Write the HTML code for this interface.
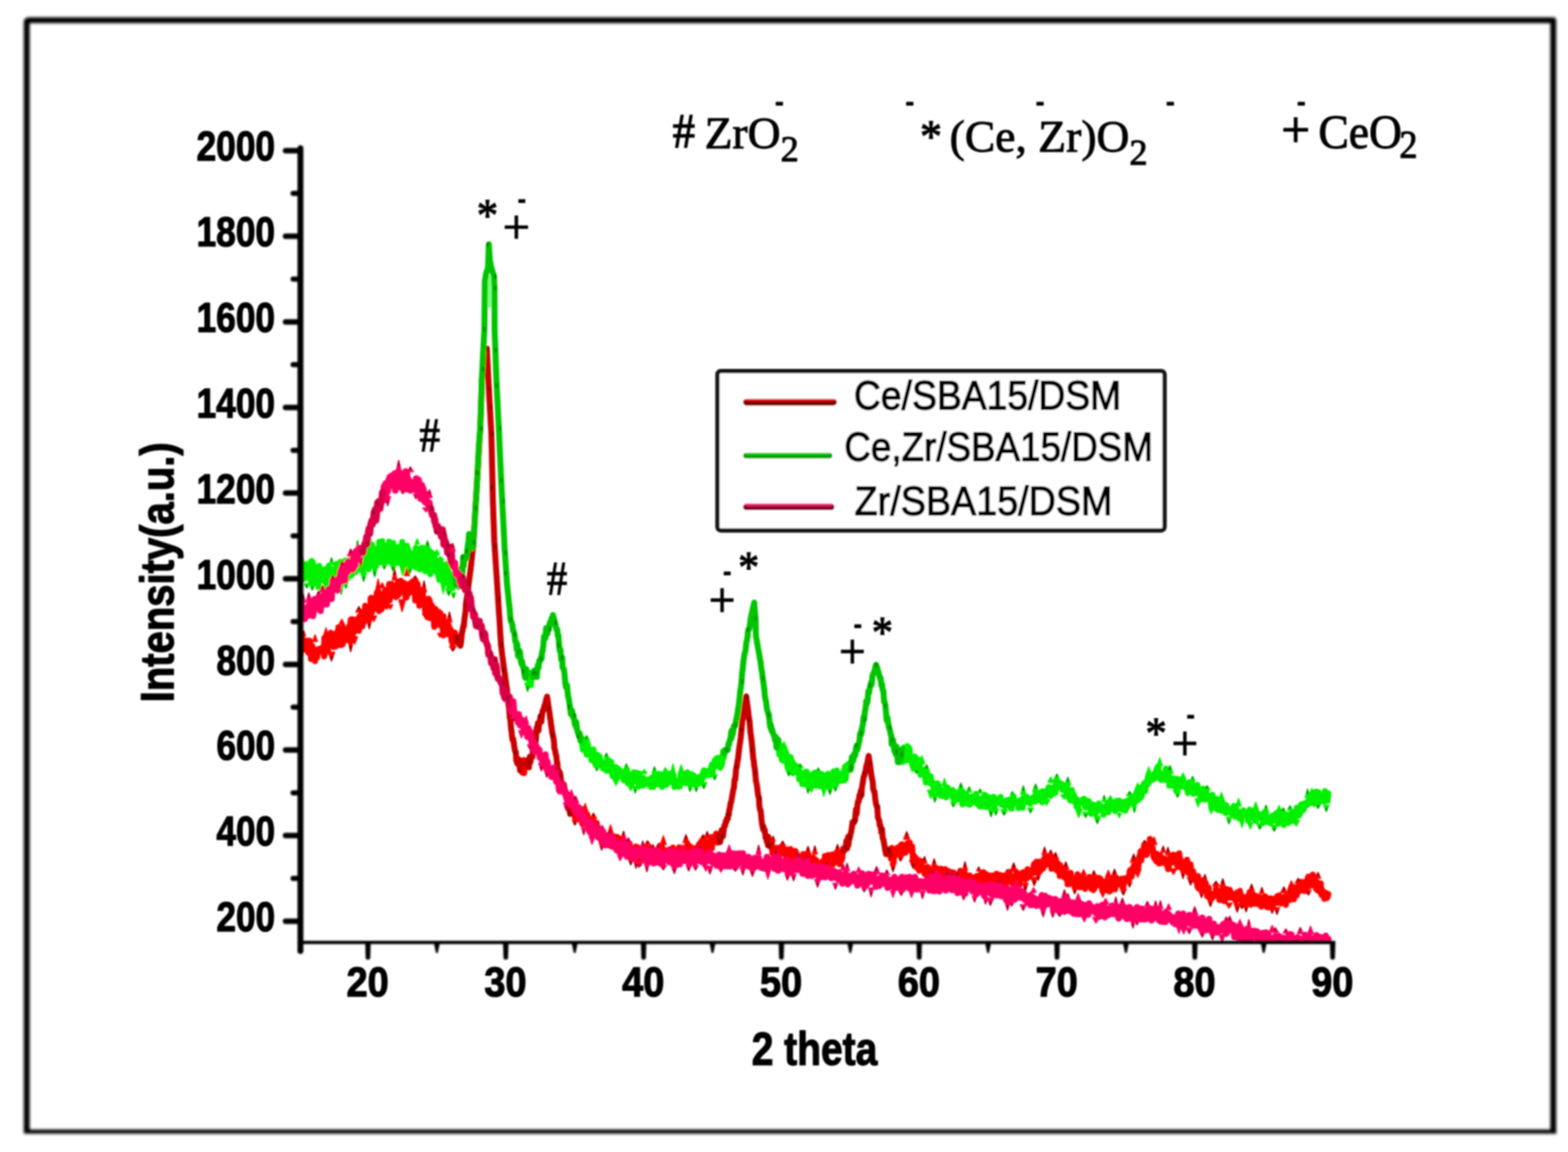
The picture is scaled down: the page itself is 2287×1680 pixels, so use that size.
<!DOCTYPE html>
<html><head><meta charset="utf-8"><title>XRD patterns</title>
<style>html,body{margin:0;padding:0;background:#fff;overflow:hidden}svg{display:block}</style></head>
<body>
<svg width="2287" height="1680" viewBox="0 0 2287 1680">
<rect width="2287" height="1680" fill="#fff"/>
<defs><filter id="bl" x="-2%" y="-2%" width="104%" height="104%"><feGaussianBlur stdDeviation="1.2"/></filter><filter id="bt" x="-5%" y="-5%" width="110%" height="110%"><feGaussianBlur stdDeviation="1.0"/></filter><filter id="bf" x="-2%" y="-2%" width="104%" height="104%"><feGaussianBlur stdDeviation="2.0"/></filter><filter id="ba" x="-3%" y="-3%" width="106%" height="106%"><feGaussianBlur stdDeviation="1.4"/></filter><clipPath id="pc"><rect x="436" y="200" width="1517" height="1175.5"/></clipPath></defs>
<g stroke="#000" fill="none" filter="url(#bf)">
<path d="M39,1652 V32 Q39,29.5 42,29.5 H2265.5 V1652" stroke-width="8.6" stroke-linejoin="round"/>
<line x1="35" y1="1650.2" x2="2270" y2="1650.2" stroke-width="6"/>
</g>
<g clip-path="url(#pc)"><g filter="url(#bl)">
<path d="M437.5,954.4 438.5,938 439.5,936.5 440.5,927.4 441.5,941.9 442.5,939.4 443.5,937.8 444.5,946.3 445.5,947.7 446.5,934.1 447.5,936.3 448.5,940.6 449.5,951.9 450.5,951.2 451.5,934.1 452.5,936.3 453,953.9 453.5,961.3 454.5,947.5 455.5,942 456.5,959.2 457.5,946.6 458.5,956.6 459.5,964.3 460.5,956.9 461.5,952.3 462.5,958.9 463.5,946.9 464,951.4 464.5,947.3 465.5,949.6 466.5,946 467.5,947.8 468.5,945 469.5,948.3 470.5,947.1 471.5,948.2 472.5,957.4 473,930.2 473.5,955.6 474.5,940.6 475.5,930.7 476.5,939.7 477.5,941.3 478.5,949.6 479.5,929 480.5,940.1 481.5,938.4 482.5,922.5 483.5,924.6 484.5,940.6 485.5,940.7 486.5,943.6 487,938 487.5,936.4 488.5,933.2 489.5,942.9 490.5,922.9 491.5,928.9 492.5,933.3 493.5,914.8 494.5,940.9 495.5,920.2 496.5,926.5 497.5,940.8 498.5,918 499.5,920.3 500,939.3 500.5,914.4 501.5,919.9 502.5,928.4 503.5,927.2 504.5,927.9 505.5,925.2 506.5,933.8 507.5,930 508.5,925.4 509.5,912.7 510.5,911.8 511.5,903.6 512.5,923.9 513,902.7 513.5,925 514.5,930 515.5,904.7 516.5,907.5 517.5,908.6 518.5,920.2 519.5,903.2 520.5,909.3 521.5,904.9 522.5,906.5 523.5,920 524.5,898.2 525.5,907 526.5,908 527,913 527.5,892.5 528.5,913.4 529.5,905.6 530.5,908.4 531.5,899.4 532.5,883.3 533.5,889.9 534.5,902.3 535.5,893.6 536.5,891.4 537.5,904.7 538.5,903.3 539.5,887.3 540,901.2 540.5,872.3 541.5,871.5 542.5,893.1 543.5,881.5 544.5,888.7 545.5,887.3 546.5,880.6 547.5,887.4 548.5,881.3 549.5,864.1 550.5,880.3 551.5,879.1 552.5,891.3 553,864.8 553.5,875.8 554.5,870.8 555.5,873.1 556.5,888.6 557.5,876.9 558.5,867.8 559.5,873.4 560.5,878.9 561.5,860.6 562.5,867.2 563.5,884.3 564.5,877.2 565.5,867.5 566.5,862.5 567,865.4 567.5,851.6 568.5,875.7 569.5,869.1 570.5,866.5 571.5,851.5 572.5,856.8 573.5,868.7 574.5,865.6 575.5,857.4 576.5,867 577.5,870.9 578.5,853.9 579.5,854.9 580,851.2 580.5,848.1 581.5,867.6 582.5,864.4 583.5,862.4 584.5,846.7 585.5,847.7 586.5,857.3 587.5,853.5 588.5,858.6 589.5,849.9 590.5,863.5 591.5,871.8 592.5,871.5 593,871.4 593.5,856.7 594.5,865.2 595.5,852.2 596.5,865.2 597.5,852.2 598.5,851.1 599.5,849.5 600,863 600.5,859.2 601.5,859.3 602.5,847.4 603.5,860.9 604.5,846.5 605.5,875.9 606.5,861.2 607,864.9 607.5,862.7 608.5,850.5 609.5,853.2 610.5,867.6 611.5,883.6 612.5,859.9 613.5,865.2 614.5,872.9 615.5,860.4 616.5,861.9 617.5,873.6 618.5,878.5 619.5,876.6 620,895.2 620.5,880.2 621.5,886.6 622.5,898.8 623.5,900.3 624.5,873.4 625.5,885.5 626.5,901.4 627.5,879 628.5,884.8 629.5,882.7 630.5,883.6 631.5,887.2 632.5,900.9 633,911.8 633.5,914.4 634.5,901.5 635.5,888.4 636.5,902.7 637.5,901 638.5,908.4 639.5,904.8 640.5,892.6 641.5,911.8 642.5,894.6 643.5,903.2 644.5,913.6 645.5,914.9 646.5,926.7 647,898.8 647.5,916.8 648.5,921.1 649.5,912.6 650.5,922.8 651.5,907.5 652.5,925.1 653.5,925 654.5,911.9 655.5,915.9 656.5,921.5 657.5,918.2 658.5,935.1 659.5,928.1 660,939.2 660.5,938.5 661.5,929.3 662.5,928.2 663.5,922.4 664.5,925.5 665.5,929.3 666.5,936.5 667.5,931.2 668.5,937.5 669.5,939.2 670.5,937.4 671,939.4 671.5,941.8 672.5,936.6 673.5,924.1 674.5,920.5 675.5,914.5 676,912.1 676.5,913.4 677.5,902.2 678.5,895.4 679,891.9 679.5,881.6 680.5,874.5 681.5,867.4 682.5,862.7 683.5,851.2 684.5,844.3 685.5,837 686.5,829.1 687.5,820.3 688.5,810.9 689.5,802.1 690,801.4 690.5,792.2 691.5,773.8 692.5,757.7 693.5,741.1 694.5,723.9 695.5,708.5 696,699.6 696.5,691.5 697.5,675.3 698.5,658.3 699.5,641.9 700.5,625.2 701.5,595.8 702.5,566.6 703,552.5 703.5,548.8 704.5,543 705.5,536.1 706.5,530.1 707.5,523.7 708.5,517.4 709.5,510.9 710,508.3 710.5,517.6 711.5,537.3 712.5,557.2 713,567 713.5,575.9 714.5,593.7 715.5,611.4 716.5,629.6 716.7,632.9 717.5,667.8 718.5,711.4 719,733.2 719.5,747.2 720.5,775.7 721,790 721.5,797.3 722.5,812.6 723.5,827.7 724.5,842.7 725.5,858.3 726.5,873.2 727.4,888.1 727.5,890.4 728.5,902.9 729.5,920.9 730.5,935.6 730.7,940.6 731.5,946.5 732.5,955.3 733.5,962.5 734.5,970.9 735.5,977.6 736.5,984.2 737.4,991.4 737.5,991.7 738.5,999.5 739.5,1005.2 740.5,1018 741,1017.6 741.5,1026 742.5,1032.2 743.5,1046.4 744.5,1050.3 745.5,1064.3 746,1065.1 746.5,1071.5 747.5,1079 748.5,1077.6 749.5,1084.1 750.5,1091.7 751.5,1095.9 752.5,1097.2 753,1109.3 753.5,1105.5 754.5,1113.6 755.5,1111.5 756.5,1107.2 757.5,1112.7 758.5,1123.6 759.5,1112 760,1117.9 760.5,1124.7 761.5,1126.7 762.5,1124.7 763.5,1108.4 764.5,1127.7 765.5,1115.7 766.5,1116.1 767.5,1115.2 768.5,1113.3 769.5,1108.6 770.5,1111.2 771.5,1119.1 772.5,1104.3 773,1103.2 773.5,1111.7 774.5,1106.3 775.5,1104.1 776.5,1103.9 777.5,1087.8 778.5,1088.3 779.5,1085.8 780.5,1085.4 781.5,1080 782.5,1065.6 783,1060.5 783.5,1064.8 784.5,1054.6 785.5,1065.2 786.5,1053.7 787.5,1050.4 788.5,1044.4 789.5,1052.5 790.5,1043.1 791.5,1036.6 792.5,1035.9 793.5,1031.1 794.5,1028.5 795.5,1025.5 796.5,1020.6 797.5,1017.5 798,1015.8 798.5,1019.7 799.5,1026.6 800.5,1033.3 801.5,1039.6 802.5,1047.9 803,1049.2 803.5,1055.5 804.5,1061 805.5,1068.9 806.5,1072.7 807.5,1078.3 808,1081.2 808.5,1091 809.5,1093.5 810.5,1100.2 811.5,1102.7 812.5,1114.4 813,1112.9 813.5,1124.5 814.5,1122.7 815.5,1127.4 816.5,1126.2 817.5,1131 818.5,1140.5 819.5,1141.2 820,1146.4 820.5,1152.7 821.5,1152.7 822.5,1144.3 823.5,1150.6 824.5,1153.2 825.5,1157.8 826.5,1157.9 827.5,1161.1 828.5,1168.8 829.5,1173 830,1180.9 830.5,1176.6 831.5,1186.9 832.5,1171.5 833.5,1172.8 834.5,1182.5 835.5,1180.3 836.5,1176.1 837.5,1188.7 838.5,1191.7 839.5,1194 840.5,1182.4 841.5,1185.9 842.5,1188.3 843.5,1187.8 844.5,1195.3 845.5,1185.3 846.5,1192.1 847.5,1179.6 848.5,1196.2 849.5,1202.1 850.5,1192.1 851.5,1200.2 852.5,1183.2 853,1191.7 853.5,1184 854.5,1197.5 855.5,1199.8 856.5,1187.5 857.5,1192.1 858.5,1194.8 859.5,1210.2 860.5,1200.1 861.5,1202.3 862.5,1204.9 863.5,1205.3 864.5,1202.5 865.5,1195.8 866.5,1201.2 867.5,1217.1 868.5,1209.4 869.5,1206 870.5,1200.2 871.5,1209.9 872.5,1211.4 873.5,1207.6 874.5,1219 875.5,1209.8 876.5,1213.6 877.5,1221.3 878.5,1218 879.5,1225 880.5,1216.7 881.5,1216.2 882.5,1223.2 883.5,1222.4 884.5,1229.8 885.5,1225.4 886.5,1223.4 887,1227 887.5,1228.7 888.5,1217.2 889.5,1224.3 890.5,1223.6 891.5,1234.4 892.5,1223.6 893.5,1234.5 894.5,1219.3 895.5,1228 896.5,1236.1 897.5,1227.6 898.5,1237.7 899.5,1220.3 900.5,1231.1 901.5,1232.6 902.5,1231.1 903.5,1222.4 904.5,1237.5 905.5,1223.4 906.5,1240.4 907.5,1236.5 908.5,1241.7 909.5,1233.9 910.5,1228.7 911.5,1233.2 912.5,1234 913.5,1241.7 914.5,1236.1 915.5,1241.5 916.5,1242.4 917.5,1249.2 918.5,1230.2 919.5,1238.1 920,1245.6 920.5,1245.7 921.5,1237.5 922.5,1239.5 923.5,1240.8 924.5,1242.4 925.5,1237.8 926.5,1237.4 927.5,1234.3 928.5,1239.3 929.5,1251.3 930.5,1235.7 931.5,1248.6 932.5,1252.2 933.5,1243.7 934.5,1252.4 935.5,1241.6 936.5,1252.5 937.5,1242.5 938.5,1234.8 939.5,1245.3 940.5,1252.9 941.5,1239.2 942.5,1246.5 943.5,1236.7 944.5,1237.6 945.5,1246.6 946.5,1242.4 947.5,1247.5 948.5,1252.4 949.5,1236.1 950.5,1239.5 951.5,1244.5 952.5,1254 953,1242.2 953.5,1241.1 954.5,1247.1 955.5,1253.8 956.5,1240.2 957.5,1242 958.5,1244.2 959.5,1248.9 960.5,1253.4 961.5,1235.4 962.5,1233.1 963.5,1244.6 964.5,1247 965.5,1232.9 966.5,1239.2 967.5,1249.7 968.5,1239.6 969.5,1246.3 970.5,1244.2 971.5,1247.3 972.5,1245.8 973.5,1244.5 974.5,1251.1 975.5,1238.9 976.5,1243.4 977.5,1250 978.5,1238.6 979.5,1239.8 980.5,1237.2 981.5,1235.9 982.5,1251.5 983.5,1245.2 984.5,1251.3 985.5,1246.7 986.5,1242.3 987,1239.8 987.5,1243.4 988.5,1241.3 989.5,1247.6 990.5,1235.5 991.5,1242.4 992.5,1244.3 993.5,1239.6 994.5,1239.5 995.5,1244.6 996.5,1244.6 997.5,1240.1 998.5,1240.6 999.5,1236.8 1000.5,1244.2 1001.5,1239.6 1002.5,1229.7 1003.5,1238.1 1004.5,1244.2 1005.5,1241.9 1006.5,1233.9 1007.5,1244.7 1008.5,1243.7 1009.5,1243.6 1010.5,1249 1011.5,1237.1 1012.5,1243.3 1013.5,1237.4 1014.5,1245.6 1015.5,1246.7 1016.5,1242.1 1017.5,1243.7 1018.5,1233.1 1019.5,1242.6 1020,1230.4 1020.5,1247.9 1021.5,1245.5 1022.5,1227.1 1023.5,1226.5 1024.5,1245.2 1025.5,1230.3 1026.5,1239.2 1027.5,1226.4 1028.5,1235.2 1029.5,1229.9 1030.5,1237.9 1031.5,1231.2 1032.5,1242.9 1033.5,1227.5 1034.5,1240.7 1035.5,1231.6 1036.5,1234.8 1037,1221 1037.5,1220.6 1038.5,1236.9 1039.5,1220.8 1040.5,1226 1041.5,1225.3 1042.5,1220.6 1043.5,1227.2 1044.5,1215.5 1045.5,1216.1 1046.5,1229 1047.5,1218.3 1048.5,1225.6 1049.5,1224.3 1050.5,1227.9 1051.5,1221.6 1052.5,1210.5 1053,1214.6 1053.5,1214.2 1054.5,1219.4 1055.5,1211.3 1056.5,1203.8 1057.5,1204.6 1058.5,1197.7 1059.5,1198.3 1060.5,1193.2 1061.5,1194 1062.5,1187.2 1063,1188.5 1063.5,1181.6 1064.5,1179.1 1065.5,1171.8 1066.5,1169.5 1067.5,1163.5 1068.5,1157.7 1069.5,1152.1 1070,1150.1 1070.5,1148.8 1071.5,1136.4 1072.5,1136.4 1073.5,1122.1 1074.5,1118.4 1075.5,1110.9 1076.5,1106.5 1077,1101.6 1077.5,1096.7 1078.5,1088.7 1079.5,1082.4 1080.5,1075 1081.5,1064.2 1082.5,1052.7 1083,1050.4 1083.5,1048.2 1084.5,1042.6 1085.5,1033.6 1086.5,1027.3 1087.5,1021.1 1088.3,1015.6 1088.5,1016.5 1089.5,1025 1090.5,1031.4 1091.5,1039.5 1092.5,1048.5 1093,1049.6 1093.5,1055.4 1094.5,1067.5 1095.5,1074.5 1096.5,1082.6 1097.5,1092.9 1098.5,1105.3 1099.5,1110.1 1100,1116.7 1100.5,1118.5 1101.5,1126.2 1102.5,1138.6 1103.5,1142.8 1104.5,1149.2 1105.5,1158.2 1106.5,1162.6 1107,1164.3 1107.5,1174.8 1108.5,1180.7 1109.5,1182.1 1110.5,1193.4 1111.5,1202.3 1112.5,1206.1 1113,1209.5 1113.5,1205.5 1114.5,1211.9 1115.5,1210.5 1116.5,1221.5 1117.5,1220.3 1118.5,1227.8 1119.5,1223.3 1120,1232.9 1120.5,1220.3 1121.5,1227.7 1122.5,1234.3 1123.5,1234.5 1124.5,1233.5 1125.5,1226.9 1126.5,1244.5 1127.5,1242 1128.5,1246.4 1129.5,1247.6 1130,1238.6 1130.5,1243.7 1131.5,1251.1 1132.5,1236.3 1133.5,1244.7 1134.5,1238.7 1135.5,1252.3 1136.5,1244.1 1137.5,1236.3 1138.5,1239.5 1139.5,1234.4 1140.5,1234.2 1141.5,1234.5 1142.5,1239.9 1143.5,1237.5 1144.5,1246.4 1145.5,1240.1 1146.5,1247.5 1147.5,1256.3 1148.5,1238.7 1149.5,1238.8 1150.5,1253.8 1151.5,1257.5 1152.5,1242 1153,1238.1 1153.5,1246.2 1154.5,1245.9 1155.5,1253.8 1156.5,1242.3 1157.5,1248.1 1158.5,1248.2 1159.5,1240.8 1160.5,1241.2 1161.5,1254.4 1162.5,1255.5 1163.5,1247 1164.5,1262.6 1165.5,1259.3 1166.5,1256.6 1167.5,1258 1168.5,1256.7 1169.5,1259.6 1170,1260.7 1170.5,1255.5 1171.5,1245.3 1172.5,1254.1 1173.5,1249.7 1174.5,1247.5 1175.5,1259.4 1176.5,1245.7 1177.5,1261.2 1178.5,1251.4 1179.5,1247.6 1180.5,1250.1 1181.5,1265.9 1182.5,1265.9 1183.5,1254.3 1184.5,1263.4 1185.5,1266.3 1186.5,1250.6 1187.5,1254.6 1188.5,1262.8 1189.5,1259.4 1190.5,1254.3 1191.5,1266.8 1192.5,1260.4 1193.5,1262.4 1194.5,1267.1 1195.5,1260.5 1196.5,1267.2 1197.5,1259.5 1198.5,1256.5 1199.5,1258.5 1200.5,1263.6 1201.5,1262.2 1202.5,1260.4 1203,1248.2 1203.5,1250.5 1204.5,1255.7 1205.5,1262.1 1206.5,1266.6 1207.5,1246.9 1208.5,1255.3 1209.5,1253 1210.5,1255 1211.5,1256.8 1212.5,1249.4 1213.5,1246 1214.5,1261.3 1215.5,1259.3 1216.5,1251.2 1217.5,1252.8 1218.5,1248.7 1219.5,1243.6 1220.5,1257 1221.5,1248.6 1222.5,1245.6 1223.5,1248.4 1224.5,1260.4 1225.5,1253.9 1226.5,1252.4 1227,1251.4 1227.5,1254.8 1228.5,1251.8 1229.5,1237.4 1230.5,1241.5 1231.5,1237.2 1232.5,1239.4 1233.5,1235.6 1234.5,1226.1 1235.5,1237.4 1236.5,1230.4 1237,1220.2 1237.5,1232.2 1238.5,1223.4 1239.5,1221.9 1240.5,1216.1 1241.5,1213.3 1242.5,1206.7 1243.5,1198.9 1244.5,1199.4 1245.5,1199.8 1246.5,1195.7 1247,1196.9 1247.5,1191.2 1248.5,1180.4 1249.5,1186.6 1250.5,1174.9 1251.5,1168.4 1252.5,1168.7 1253.5,1159.7 1254.5,1163.1 1255.5,1153.2 1256.5,1159.4 1257,1149.7 1257.5,1146.1 1258.5,1141 1259.5,1133.8 1260.5,1131.2 1261.5,1127.7 1262.5,1123.7 1263.5,1117.8 1264.5,1114.6 1265.5,1110.6 1266.5,1104.7 1267,1102.4 1267.5,1106.2 1268.5,1112.3 1269.5,1119.4 1270.5,1127.7 1271.5,1133.8 1272.5,1138.2 1273,1141.1 1273.5,1150 1274.5,1153.5 1275.5,1154.4 1276.5,1164.3 1277.5,1171.5 1278.5,1175.6 1279.5,1176.1 1280.5,1192.3 1281.5,1194.6 1282.5,1197.3 1283,1203.5 1283.5,1202.1 1284.5,1205.7 1285.5,1214.3 1286.5,1209.5 1287.5,1222.7 1288.5,1224.4 1289.5,1230.2 1290.5,1235.3 1291.5,1242 1292.5,1245.8 1293,1245.2 1293.5,1239.5 1294.5,1245.3 1295.5,1240.5 1296.5,1239 1297.5,1246.4 1298.5,1246.6 1299.5,1252.7 1300.5,1236.5 1301.5,1251 1302.5,1252.2 1303,1248.9 1303.5,1257.2 1304.5,1240.9 1305.5,1247.9 1306.5,1242.2 1307.5,1243.6 1308.5,1236.3 1309.5,1240.8 1310.5,1245.2 1311.5,1240.5 1312.5,1241 1313.5,1232.6 1314.5,1246.4 1315.5,1231.1 1316.5,1234.9 1317,1238.2 1317.5,1233 1318.5,1239.3 1319.5,1235.6 1320.5,1243.8 1321.5,1237.5 1322.5,1236.6 1323.5,1229.5 1324.5,1237 1325.5,1240.2 1326.5,1236.7 1327,1228.7 1327.5,1232.2 1328.5,1236.4 1329.5,1240.3 1330.5,1234.5 1331.5,1253.4 1332.5,1246.8 1333.5,1250.4 1334.5,1249.6 1335.5,1254.3 1336.5,1265.3 1337,1252.7 1337.5,1255.7 1338.5,1253.7 1339.5,1257.5 1340.5,1269.9 1341.5,1259 1342.5,1261 1343.5,1255.5 1344.5,1263.3 1345.5,1268.1 1346.5,1264.5 1347.5,1266.1 1348.5,1274.7 1349.5,1274 1350.5,1271 1351.5,1267.7 1352.5,1264.2 1353,1283.3 1353.5,1264.7 1354.5,1278.4 1355.5,1273.2 1356.5,1269.9 1357.5,1280.2 1358.5,1270.1 1359.5,1283 1360.5,1268.4 1361.5,1278.3 1362.5,1283.5 1363.5,1269.2 1364.5,1284.9 1365.5,1281.1 1366.5,1266 1367.5,1284.8 1368.5,1285.4 1369.5,1274.4 1370.5,1275 1371.5,1278.7 1372.5,1266.7 1373.5,1277.6 1374.5,1282.7 1375.5,1273.3 1376.5,1284.1 1377.5,1286.4 1378.5,1267.4 1379.5,1267.6 1380.5,1272.8 1381.5,1281.5 1382.5,1280.1 1383.5,1271.8 1384.5,1270.6 1385.5,1273.3 1386.5,1287.5 1387,1272 1387.5,1274.5 1388.5,1284.4 1389.5,1276.6 1390.5,1272.1 1391.5,1287.7 1392.5,1280.8 1393.5,1274.3 1394.5,1276.4 1395.5,1284.9 1396.5,1276.7 1397.5,1280.8 1398.5,1284.9 1399.5,1285.7 1400.5,1269.7 1401.5,1276.4 1402.5,1277.5 1403.5,1280.4 1404.5,1284.8 1405.5,1287.4 1406.5,1277.1 1407.5,1273.1 1408.5,1281.5 1409.5,1276.5 1410.5,1289.7 1411.5,1282.8 1412.5,1281 1413.5,1287.1 1414.5,1276.6 1415.5,1278.7 1416.5,1279.9 1417.5,1285.3 1418.5,1289.5 1419.5,1286.3 1420,1286.2 1420.5,1279.9 1421.5,1283.7 1422.5,1279.9 1423.5,1288.7 1424.5,1277.4 1425.5,1280.9 1426.5,1282.9 1427.5,1286.4 1428.5,1276.7 1429.5,1279.9 1430.5,1276.1 1431.5,1272.8 1432.5,1288.3 1433.5,1284.3 1434.5,1271.8 1435.5,1275.1 1436.5,1284.9 1437.5,1277.5 1438.5,1274.6 1439.5,1289.3 1440.5,1278.2 1441.5,1279 1442.5,1284.9 1443.5,1276.8 1444.5,1281.4 1445.5,1282.3 1446.5,1286 1447.5,1276.6 1448.5,1288.2 1449.5,1283.4 1450.5,1290.5 1451.5,1282.7 1452.5,1277.9 1453,1277.8 1453.5,1274 1454.5,1281.2 1455.5,1280.8 1456.5,1286.9 1457.5,1281.7 1458.5,1275.8 1459.5,1287.7 1460.5,1278.4 1461.5,1282.9 1462.5,1290.4 1463.5,1289.2 1464.5,1276.5 1465.5,1280.4 1466.5,1289.7 1467.5,1287.4 1468.5,1284.6 1469.5,1286.8 1470.5,1271.5 1471.5,1279.2 1472.5,1271.9 1473.5,1277 1474.5,1278.6 1475.5,1284 1476.5,1288.5 1477.5,1286 1478.5,1282.7 1479.5,1278.6 1480.5,1289 1481.5,1282.5 1482.5,1271.5 1483.5,1280.4 1484.5,1284 1485.5,1274.7 1486.5,1282.2 1487,1290.3 1487.5,1278.9 1488.5,1279.7 1489.5,1279.3 1490.5,1272.9 1491.5,1275.7 1492.5,1271.8 1493.5,1275.9 1494.5,1272.2 1495.5,1283 1496.5,1275.7 1497.5,1281.3 1498.5,1267.6 1499.5,1275 1500.5,1278.3 1501.5,1278.6 1502.5,1269.8 1503,1272.9 1503.5,1273.8 1504.5,1270 1505.5,1268.6 1506.5,1273.6 1507.5,1261.8 1508.5,1259.4 1509.5,1264.4 1510.5,1268.4 1511.5,1256.6 1512.5,1273.4 1513.5,1264.4 1514.5,1266.6 1515.5,1256.6 1516.5,1260.8 1517,1270.6 1517.5,1270.3 1518.5,1263.8 1519.5,1257.5 1520.5,1258 1521.5,1266.7 1522.5,1253 1523.5,1251 1524.5,1255.7 1525.5,1261.8 1526.5,1248.6 1527.5,1257.2 1528.5,1256.7 1529.5,1254.7 1530,1252.5 1530.5,1260 1531.5,1258.8 1532.5,1247.2 1533.5,1267.3 1534.5,1261.2 1535.5,1261.4 1536.5,1258.1 1537.5,1259.6 1538.5,1253.7 1539.5,1262.1 1540.5,1268.4 1541.5,1269.6 1542.5,1262.5 1543,1258.6 1543.5,1260.6 1544.5,1266.7 1545.5,1277.7 1546.5,1261.9 1547.5,1271.6 1548.5,1276.1 1549.5,1277.2 1550.5,1273.7 1551.5,1266.5 1552.5,1279.9 1553.5,1277.8 1554.5,1281.4 1555.5,1273 1556.5,1276.8 1557,1289.8 1557.5,1279.9 1558.5,1280.7 1559.5,1276.5 1560.5,1289.1 1561.5,1272.8 1562.5,1278.5 1563.5,1284.7 1564.5,1282 1565.5,1288.1 1566.5,1285.4 1567.5,1292.2 1568.5,1281.8 1569.5,1282.6 1570.5,1285.5 1571.5,1274.9 1572.5,1293.2 1573.5,1278.7 1574.5,1292 1575.5,1294.2 1576.5,1291.7 1577.5,1286.8 1578.5,1281.7 1579.5,1276.8 1580.5,1289.8 1581.5,1285 1582.5,1296.4 1583.5,1285.1 1584.5,1291.2 1585.5,1284.9 1586.5,1290.4 1587,1285.6 1587.5,1286.8 1588.5,1278.7 1589.5,1283.5 1590.5,1287.2 1591.5,1296.3 1592.5,1290 1593.5,1280.6 1594.5,1298.1 1595.5,1290.8 1596.5,1295.8 1597.5,1283 1598.5,1279.6 1599.5,1284.1 1600.5,1282.5 1601.5,1290.8 1602.5,1280 1603.5,1283.6 1604.5,1280.7 1605.5,1290.4 1606.5,1283.7 1607.5,1298.4 1608.5,1294.8 1609.5,1295.3 1610.5,1288.7 1611.5,1291.6 1612.5,1295.7 1613.5,1284.9 1614.5,1298.3 1615.5,1290 1616.5,1298.6 1617.5,1300.1 1618.5,1300.2 1619.5,1284.1 1620,1298.7 1620.5,1288.9 1621.5,1288 1622.5,1289 1623.5,1282.9 1624.5,1291.7 1625.5,1285.5 1626.5,1296.9 1627.5,1291.7 1628.5,1280.1 1629.5,1283.1 1630.5,1282.7 1631.5,1284.6 1632.5,1284.6 1633.5,1289.8 1634.5,1287.4 1635.5,1281.4 1636.5,1290.7 1637,1293.5 1637.5,1287.4 1638.5,1293.6 1639.5,1287.9 1640.5,1280.7 1641.5,1280.6 1642.5,1282 1643.5,1284.2 1644.5,1280.9 1645.5,1284.6 1646.5,1284.5 1647.5,1270.6 1648.5,1268.6 1649.5,1273.8 1650,1276.6 1650.5,1278.5 1651.5,1275.1 1652.5,1273.2 1653.5,1262.2 1654.5,1268.2 1655.5,1260.3 1656.5,1265 1657.5,1266.1 1658.5,1254.8 1659.5,1255.7 1660.5,1264.5 1661.5,1249 1662.5,1248.7 1663,1244.2 1663.5,1241.4 1664.5,1255 1665.5,1243.4 1666.5,1242.3 1667.5,1239.9 1668.5,1234.3 1669.5,1246.9 1670.5,1237.2 1671.5,1239.1 1672.5,1246.7 1673.5,1235.8 1674.5,1236.1 1675.5,1235.1 1676.5,1240.8 1677,1223.3 1677.5,1229.1 1678.5,1224.9 1679.5,1236.1 1680.5,1241.6 1681.5,1236.5 1682.5,1250.2 1683.5,1248.6 1684.5,1253.4 1685.5,1246.7 1686.5,1256.5 1687,1244.9 1687.5,1251 1688.5,1249.9 1689.5,1247.1 1690.5,1259.5 1691.5,1259.3 1692.5,1247.4 1693.5,1256.8 1694.5,1253.7 1695.5,1254.7 1696.5,1258.3 1697.5,1251.7 1698.5,1256.9 1699.5,1258.2 1700.5,1252.9 1701.5,1254.2 1702.5,1263.8 1703,1258.7 1703.5,1267.6 1704.5,1267.4 1705.5,1253 1706.5,1259.6 1707.5,1247.2 1708.5,1252.7 1709.5,1250.7 1710.5,1251.3 1711.5,1246.2 1712.5,1257.6 1713.5,1256.5 1714.5,1250 1715.5,1254.6 1716.5,1260.9 1717.5,1264.3 1718.5,1245.6 1719.5,1263.8 1720,1244.3 1720.5,1249 1721.5,1252.6 1722.5,1265.6 1723.5,1260.6 1724.5,1261.2 1725.5,1267.9 1726.5,1260.4 1727.5,1257 1728.5,1269.6 1729.5,1259.9 1730.5,1254.2 1731.5,1253.7 1732.5,1264.6 1733,1273.1 1733.5,1269.3 1734.5,1266.6 1735.5,1275.3 1736.5,1260.5 1737.5,1273.7 1738.5,1269.3 1739.5,1282.5 1740.5,1270.7 1741.5,1282.2 1742.5,1280.1 1743.5,1280.6 1744.5,1286.2 1745.5,1282.8 1746.5,1293.7 1747,1284.7 1747.5,1277.6 1748.5,1295.9 1749.5,1296.1 1750.5,1292 1751.5,1298.1 1752.5,1294.9 1753.5,1286.6 1754.5,1283.4 1755.5,1287 1756.5,1292.5 1757.5,1298.4 1758.5,1287.3 1759.5,1291.4 1760.5,1306.9 1761.5,1294.4 1762.5,1295.1 1763,1294.2 1763.5,1309.2 1764.5,1305.1 1765.5,1305.9 1766.5,1309.8 1767.5,1306.8 1768.5,1309.3 1769.5,1303.6 1770.5,1307 1771.5,1305.7 1772.5,1306.4 1773.5,1295 1774.5,1301.1 1775.5,1300.4 1776.5,1298.9 1777.5,1302.8 1778.5,1312.6 1779.5,1309.4 1780.5,1304.3 1781.5,1306 1782.5,1312.9 1783.5,1296.9 1784.5,1307 1785.5,1314.1 1786.5,1314.3 1787.5,1310.8 1788.5,1308.9 1789.5,1296.6 1790.5,1301.5 1791.5,1305.8 1792.5,1308.6 1793.5,1309.1 1793.7,1297.6 1794.5,1303.4 1795.5,1308.4 1796.5,1302.1 1797.5,1305.6 1798.5,1310.2 1799.5,1309 1800.5,1308.3 1801.5,1311.9 1802.5,1314.4 1803.5,1305.8 1804.5,1301.2 1805.5,1303.5 1806.5,1304.9 1807.5,1307.7 1808.5,1299.1 1809.5,1303.5 1810.5,1306.7 1811.5,1316.7 1812.5,1311.7 1813.5,1307.7 1814.5,1314.1 1815.5,1309.9 1816.5,1310.4 1817.5,1315.5 1818.5,1311.2 1819.5,1310.2 1820,1313.7 1820.5,1306.1 1821.5,1309.9 1822.5,1300.8 1823.5,1307.5 1824.5,1319.4 1825.5,1308.3 1826.5,1310.6 1827.5,1308.3 1828.5,1304.8 1829.5,1314.2 1830.5,1311.3 1831.5,1318.2 1832.5,1306.5 1833.5,1312.3 1834.5,1310.2 1835.5,1308.9 1836.5,1319.2 1837.5,1308.4 1838.5,1308.7 1839.5,1322.3 1840.5,1313 1841.5,1312.4 1842.5,1316.6 1843.5,1308 1844.5,1316.3 1845.5,1307.3 1846.5,1311.8 1847,1311.3 1847.5,1322.8 1848.5,1318.4 1849.5,1323.5 1850.5,1323.4 1851.5,1310.1 1852.5,1317.4 1853.5,1311.5 1854.5,1310.1 1855.5,1321.1 1856.5,1322.4 1857.5,1314.4 1858.5,1315.6 1859.5,1315.2 1860.5,1315.3 1861.5,1315.4 1862.5,1307.1 1863.5,1316.8 1864.5,1308.8 1865.5,1305.7 1866.5,1311.9 1867.5,1314.3 1868.5,1317.6 1869.5,1314.7 1870.5,1314.1 1871.5,1308.3 1872.5,1314.5 1873.5,1313.3 1873.7,1313.8 1874.5,1307 1875.5,1319.7 1876.5,1314.6 1877.5,1313.4 1878.5,1309.2 1879.5,1306.2 1880.5,1312.8 1881.5,1298.6 1882.5,1303.1 1883.5,1303.4 1884.5,1307.9 1885.5,1301.9 1886.5,1311.6 1887,1293.6 1887.5,1311.4 1888.5,1303.5 1889.5,1306.6 1890.5,1297 1891.5,1305.8 1892.5,1296.7 1893.5,1299.6 1894.5,1288.2 1895.5,1299.9 1896.5,1296.6 1897.5,1286 1898.5,1293.8 1899.5,1291.8 1900,1298.4 1900.5,1288.8 1901.5,1293.5 1902.5,1299.6 1903.5,1285.6 1904.5,1299.6 1905.5,1291.1 1906.5,1287.5 1907.5,1279.7 1908.5,1278.3 1909.5,1292.8 1910.5,1283.3 1911.5,1281.6 1912.5,1291.5 1913.5,1288.4 1913.8,1284.7 1914.5,1275.4 1915.5,1276 1916.5,1291.4 1917.5,1286.1 1918.5,1285.4 1919.5,1296.8 1920,1285.4 1920.5,1290.7 1921.5,1298.6 1922.5,1294.4 1923.5,1288.7 1924.5,1288.1 1925.5,1301.4 1926.5,1288.2 1927,1300.9 1927.5,1305.5 1928.5,1297.7 1929.5,1304.6 1930.5,1301.7 1931.5,1311 1932.5,1305.8 1933.5,1301.7 1934.5,1309.3 1935.5,1309.6 1936,1305.9 1936.5,1308.5 1937.5,1303.6" fill="none" stroke="#ff0000" stroke-width="8.6" stroke-linejoin="round" stroke-linecap="round"/>
<path d="M665.5,929.3 666.5,936.5 667.5,931.2 668.5,937.5 669.5,939.2 670.5,937.4 671,939.4 671.5,941.8 672.5,936.6 673.5,924.1 674.5,920.5 675.5,914.5 676,912.1 676.5,913.4 677.5,902.2 678.5,895.4 679,891.9 679.5,881.6 680.5,874.5 681.5,867.4 682.5,862.7 683.5,851.2 684.5,844.3 685.5,837 686.5,829.1 687.5,820.3 688.5,810.9 689.5,802.1 690,801.4 690.5,792.2 691.5,773.8 692.5,757.7 693.5,741.1 694.5,723.9 695.5,708.5 696,699.6 696.5,691.5 697.5,675.3 698.5,658.3 699.5,641.9 700.5,625.2 701.5,595.8 702.5,566.6 703,552.5 703.5,548.8 704.5,543 705.5,536.1 706.5,530.1 707.5,523.7 708.5,517.4 709.5,510.9 710,508.3 710.5,517.6 711.5,537.3 712.5,557.2 713,567 713.5,575.9 714.5,593.7 715.5,611.4 716.5,629.6 716.7,632.9 717.5,667.8 718.5,711.4 719,733.2 719.5,747.2 720.5,775.7 721,790 721.5,797.3 722.5,812.6 723.5,827.7 724.5,842.7 725.5,858.3 726.5,873.2 727.4,888.1 727.5,890.4 728.5,902.9 729.5,920.9 730.5,935.6 730.7,940.6 731.5,946.5 732.5,955.3 733.5,962.5 734.5,970.9 735.5,977.6 736.5,984.2 737.4,991.4 737.5,991.7 738.5,999.5 739.5,1005.2 740.5,1018 741,1017.6 741.5,1026 742.5,1032.2 743.5,1046.4 744.5,1050.3 745.5,1064.3 746,1065.1 746.5,1071.5 747.5,1079 748.5,1077.6 749.5,1084.1 750.5,1091.7 751.5,1095.9 752.5,1097.2 753,1109.3 753.5,1105.5 754.5,1113.6 755.5,1111.5 756.5,1107.2 757.5,1112.7 758.5,1123.6 759.5,1112M766.5,1116.1 767.5,1115.2 768.5,1113.3 769.5,1108.6 770.5,1111.2 771.5,1119.1 772.5,1104.3 773,1103.2 773.5,1111.7 774.5,1106.3 775.5,1104.1 776.5,1103.9 777.5,1087.8 778.5,1088.3 779.5,1085.8 780.5,1085.4 781.5,1080 782.5,1065.6 783,1060.5 783.5,1064.8 784.5,1054.6 785.5,1065.2 786.5,1053.7 787.5,1050.4 788.5,1044.4 789.5,1052.5 790.5,1043.1 791.5,1036.6 792.5,1035.9 793.5,1031.1 794.5,1028.5 795.5,1025.5 796.5,1020.6 797.5,1017.5 798,1015.8 798.5,1019.7 799.5,1026.6 800.5,1033.3 801.5,1039.6 802.5,1047.9 803,1049.2 803.5,1055.5 804.5,1061 805.5,1068.9 806.5,1072.7 807.5,1078.3 808,1081.2 808.5,1091 809.5,1093.5 810.5,1100.2 811.5,1102.7 812.5,1114.4 813,1112.9 813.5,1124.5 814.5,1122.7 815.5,1127.4 816.5,1126.2 817.5,1131 818.5,1140.5 819.5,1141.2 820,1146.4 820.5,1152.7 821.5,1152.7 822.5,1144.3 823.5,1150.6 824.5,1153.2 825.5,1157.8 826.5,1157.9 827.5,1161.1 828.5,1168.8 829.5,1173 830,1180.9 830.5,1176.6 831.5,1186.9 832.5,1171.5 833.5,1172.8 834.5,1182.5 835.5,1180.3M1047.5,1218.3 1048.5,1225.6 1049.5,1224.3 1050.5,1227.9 1051.5,1221.6 1052.5,1210.5 1053,1214.6 1053.5,1214.2 1054.5,1219.4 1055.5,1211.3 1056.5,1203.8 1057.5,1204.6 1058.5,1197.7 1059.5,1198.3 1060.5,1193.2 1061.5,1194 1062.5,1187.2 1063,1188.5 1063.5,1181.6 1064.5,1179.1 1065.5,1171.8 1066.5,1169.5 1067.5,1163.5 1068.5,1157.7 1069.5,1152.1 1070,1150.1 1070.5,1148.8 1071.5,1136.4 1072.5,1136.4 1073.5,1122.1 1074.5,1118.4 1075.5,1110.9 1076.5,1106.5 1077,1101.6 1077.5,1096.7 1078.5,1088.7 1079.5,1082.4 1080.5,1075 1081.5,1064.2 1082.5,1052.7 1083,1050.4 1083.5,1048.2 1084.5,1042.6 1085.5,1033.6 1086.5,1027.3 1087.5,1021.1 1088.3,1015.6 1088.5,1016.5 1089.5,1025 1090.5,1031.4 1091.5,1039.5 1092.5,1048.5 1093,1049.6 1093.5,1055.4 1094.5,1067.5 1095.5,1074.5 1096.5,1082.6 1097.5,1092.9 1098.5,1105.3 1099.5,1110.1 1100,1116.7 1100.5,1118.5 1101.5,1126.2 1102.5,1138.6 1103.5,1142.8 1104.5,1149.2 1105.5,1158.2 1106.5,1162.6 1107,1164.3 1107.5,1174.8 1108.5,1180.7 1109.5,1182.1 1110.5,1193.4 1111.5,1202.3 1112.5,1206.1 1113,1209.5 1113.5,1205.5 1114.5,1211.9 1115.5,1210.5 1116.5,1221.5 1117.5,1220.3 1118.5,1227.8 1119.5,1223.3 1120,1232.9 1120.5,1220.3 1121.5,1227.7 1122.5,1234.3 1123.5,1234.5 1124.5,1233.5 1125.5,1226.9M1230.5,1241.5 1231.5,1237.2 1232.5,1239.4 1233.5,1235.6 1234.5,1226.1 1235.5,1237.4 1236.5,1230.4 1237,1220.2 1237.5,1232.2 1238.5,1223.4 1239.5,1221.9 1240.5,1216.1 1241.5,1213.3 1242.5,1206.7 1243.5,1198.9 1244.5,1199.4 1245.5,1199.8 1246.5,1195.7 1247,1196.9 1247.5,1191.2 1248.5,1180.4 1249.5,1186.6 1250.5,1174.9 1251.5,1168.4 1252.5,1168.7 1253.5,1159.7 1254.5,1163.1 1255.5,1153.2 1256.5,1159.4 1257,1149.7 1257.5,1146.1 1258.5,1141 1259.5,1133.8 1260.5,1131.2 1261.5,1127.7 1262.5,1123.7 1263.5,1117.8 1264.5,1114.6 1265.5,1110.6 1266.5,1104.7 1267,1102.4 1267.5,1106.2 1268.5,1112.3 1269.5,1119.4 1270.5,1127.7 1271.5,1133.8 1272.5,1138.2 1273,1141.1 1273.5,1150 1274.5,1153.5 1275.5,1154.4 1276.5,1164.3 1277.5,1171.5 1278.5,1175.6 1279.5,1176.1 1280.5,1192.3 1281.5,1194.6 1282.5,1197.3 1283,1203.5 1283.5,1202.1 1284.5,1205.7 1285.5,1214.3 1286.5,1209.5 1287.5,1222.7 1288.5,1224.4 1289.5,1230.2 1290.5,1235.3 1291.5,1242 1292.5,1245.8 1293,1245.2 1293.5,1239.5 1294.5,1245.3 1295.5,1240.5 1296.5,1239 1297.5,1246.4 1298.5,1246.6" fill="none" stroke="#600000" stroke-opacity="0.35" stroke-width="8.6" stroke-linejoin="round" stroke-linecap="round"/>
<path d="M439.1,927L442.5,919.8L445.9,927ZM455.9,935.5L459.5,925.6L463.1,935.5ZM471.9,926.9L475.5,915.4L479.1,926.9ZM488.4,951.1L483.5,963.9L478.6,951.1ZM494.6,910.3L498.5,902.8L502.4,910.3ZM515.7,933.5L511.5,950.4L507.3,933.5ZM521.6,928.8L517.5,939.6L513.4,928.8ZM518.8,892.7L523.5,884.5L528.2,892.7ZM542.1,904.6L538.5,916.9L534.9,904.6ZM549.4,898L545.5,906.7L541.6,898ZM547.8,861.1L551.5,844.2L555.2,861.1ZM553.7,856.9L557.5,849.9L561.3,856.9ZM573,882.1L569.5,888.7L566,882.1ZM572.2,845.9L575.5,828.4L578.8,845.9ZM591.4,874.6L586.5,892.3L581.6,874.6ZM589.5,839.4L593.5,826.9L597.5,839.4ZM601,845.6L605.5,839.9L610,845.6ZM615,863.4L618.5,847.2L622,863.4ZM622.2,875.1L626.5,869.2L630.8,875.1ZM644.8,923.4L641.5,929.7L638.2,923.4ZM651.8,906.9L655.5,892.6L659.2,906.9ZM665.4,942.8L660.5,949.6L655.6,942.8ZM842.4,1195.9L838.5,1203.3L834.6,1195.9ZM849.7,1182.7L853.5,1171.5L857.3,1182.7ZM860.9,1193.4L865.5,1185.8L870.1,1193.4ZM881.7,1227.1L877.5,1239.7L873.3,1227.1ZM886.8,1214.4L890.5,1202.8L894.2,1214.4ZM908.9,1244.4L904.5,1250.6L900.1,1244.4ZM905.6,1224.2L909.5,1212.2L913.4,1224.2ZM923.9,1252.3L920,1261.4L916.1,1252.3ZM930.9,1253L927.5,1266.2L924.1,1253ZM938.5,1253.7L934.5,1263.3L930.5,1253.7ZM940.3,1231.9L944.5,1226.2L948.7,1231.9ZM962.2,1254.8L958.5,1261.4L954.8,1254.8ZM963.2,1231.4L967.5,1218.8L971.8,1231.4ZM979.3,1253.5L974.5,1260.8L969.7,1253.5ZM988.8,1252.6L984.5,1265.8L980.2,1252.6ZM996.2,1228.4L1000.5,1217.3L1004.8,1228.4ZM1016.2,1250.1L1012.5,1258.7L1008.8,1250.1ZM1020.6,1224.3L1025.5,1217.4L1030.4,1224.3ZM1027.5,1222L1031.5,1212.7L1035.5,1222ZM1124.2,1226.8L1127.5,1219.5L1130.8,1226.8ZM1137.4,1233.2L1141.5,1226.7L1145.6,1233.2ZM1152.8,1257.9L1148.5,1267.3L1144.2,1257.9ZM1167.8,1263.5L1163.5,1273.2L1159.2,1263.5ZM1174.6,1244.6L1178.5,1234.3L1182.4,1244.6ZM1184.9,1245.5L1188.5,1233.8L1192.1,1245.5ZM1201.1,1268.5L1196.5,1274.9L1191.9,1268.5ZM1210,1268.4L1205.5,1274.8L1201,1268.4ZM1217.5,1242.7L1221.5,1231.4L1225.5,1242.7ZM1306.8,1258.7L1302.5,1271.3L1298.2,1258.7ZM1317.7,1248.6L1313.5,1255.8L1309.3,1248.6ZM1317.9,1223.9L1322.5,1213L1327.1,1223.9ZM1336.5,1254.7L1331.5,1265.7L1326.5,1254.7ZM1345.1,1258.8L1348.5,1249.1L1351.9,1258.8ZM1358.5,1264.2L1362.5,1252.4L1366.5,1264.2ZM1379.7,1287.5L1375.5,1294.4L1371.3,1287.5ZM1394.1,1289.2L1390.5,1297.2L1386.9,1289.2ZM1403.9,1269L1407.5,1256.8L1411.1,1269ZM1424.8,1291.8L1420.5,1303.9L1416.2,1291.8ZM1424.3,1270.2L1427.5,1264.4L1430.7,1270.2ZM1442.3,1291.8L1438.5,1304.7L1434.7,1291.8ZM1455.9,1291.8L1451.5,1302.7L1447.1,1291.8ZM1467.4,1291.8L1463.5,1300.4L1459.6,1291.8ZM1473.8,1270.2L1478.5,1258.4L1483.2,1270.2ZM1499.6,1288.1L1495.5,1299.7L1491.4,1288.1ZM1513.5,1279.6L1508.5,1291.6L1503.5,1279.6ZM1518,1274.1L1514.5,1283.6L1511,1274.1ZM1519.7,1246.5L1523.5,1235.5L1527.3,1246.5ZM1529.2,1245.9L1532.5,1239.9L1535.8,1245.9ZM1534.8,1253.5L1539.5,1243.2L1544.2,1253.5ZM1550,1268.1L1554.5,1256.9L1559,1268.1ZM1571.5,1294.2L1567.5,1303.4L1563.5,1294.2ZM1577,1275.8L1580.5,1268.1L1584,1275.8ZM1591.6,1278.1L1595.5,1269.8L1599.4,1278.1ZM1612.3,1300.6L1608.5,1308.5L1604.7,1300.6ZM1611.9,1280L1616.5,1269.1L1621.1,1280ZM1620.7,1279.4L1625.5,1267.5L1630.3,1279.4ZM1642.8,1296.8L1638.5,1305.3L1634.2,1296.8ZM1650.8,1286.8L1647.5,1293.4L1644.2,1286.8ZM1648.7,1257.6L1653.5,1245.5L1658.3,1257.6ZM1664.3,1267.5L1659.5,1279.6L1654.7,1267.5ZM1664.9,1231.5L1669.5,1225.5L1674.1,1231.5ZM1679.7,1231.7L1683.5,1220.6L1687.3,1231.7ZM1693,1242.9L1696.5,1234L1700,1242.9ZM1699.8,1246.9L1703.5,1235.7L1707.2,1246.9ZM1716.3,1267.1L1711.5,1275.5L1706.7,1267.1ZM1729.3,1269.2L1725.5,1281.2L1721.7,1269.2ZM1741.2,1279.8L1736.5,1290.8L1731.8,1279.8ZM1755.8,1300.9L1752.5,1309L1749.2,1300.9ZM1754.3,1284.8L1757.5,1275.3L1760.7,1284.8ZM1770,1310.9L1765.5,1322.1L1761,1310.9ZM1768.5,1291.8L1773.5,1285.1L1778.5,1291.8ZM1779.2,1294L1783.5,1281.4L1787.8,1294ZM1797.4,1316.9L1792.5,1324.5L1787.6,1316.9ZM1808.8,1318.2L1804.5,1330.3L1800.2,1318.2ZM1815.9,1319L1811.5,1325L1807.1,1319ZM1821.3,1319.6L1817.5,1329.8L1813.7,1319.6ZM1821.3,1300.1L1825.5,1289.4L1829.7,1300.1ZM1837.1,1303.1L1840.5,1294.2L1843.9,1303.1ZM1858.8,1324.2L1855.5,1332L1852.2,1324.2ZM1866.5,1323.5L1862.5,1333.5L1858.5,1323.5ZM1867.8,1301.9L1872.5,1293.3L1877.2,1301.9ZM1878.9,1294.8L1883.5,1284.4L1888.1,1294.8ZM1888.8,1287.6L1893.5,1281L1898.2,1287.6ZM1912.2,1298.2L1908.5,1305.4L1904.8,1298.2ZM1918.6,1280.7L1922.5,1272.3L1926.4,1280.7Z" fill="#ff0000" stroke="#ff0000" stroke-width="1.5" stroke-linejoin="round"/>
<path d="M441,923.4L442.5,919.8L444,923.4ZM481.3,957.5L483.5,963.9L485.7,957.5ZM509.6,942L511.5,950.4L513.4,942ZM521.4,888.6L523.5,884.5L525.6,888.6ZM536.9,910.7L538.5,916.9L540.1,910.7ZM574,837.2L575.5,828.4L577,837.2ZM603.5,842.7L605.5,839.9L607.5,842.7ZM616.9,855.3L618.5,847.2L620.1,855.3ZM653.9,899.8L655.5,892.6L657.1,899.8ZM658.3,946.2L660.5,949.6L662.7,946.2ZM836.7,1199.6L838.5,1203.3L840.3,1199.6ZM863.4,1189.6L865.5,1185.8L867.6,1189.6ZM875.6,1233.4L877.5,1239.7L879.4,1233.4ZM902.5,1247.5L904.5,1250.6L906.5,1247.5ZM907.7,1218.2L909.5,1212.2L911.3,1218.2ZM918.2,1256.8L920,1261.4L921.8,1256.8ZM926,1259.6L927.5,1266.2L929,1259.6ZM932.7,1258.5L934.5,1263.3L936.3,1258.5ZM942.6,1229.1L944.5,1226.2L946.4,1229.1ZM956.8,1258.1L958.5,1261.4L960.2,1258.1ZM972.3,1257.1L974.5,1260.8L976.7,1257.1ZM982.6,1259.2L984.5,1265.8L986.4,1259.2ZM998.6,1222.8L1000.5,1217.3L1002.4,1222.8ZM1023.3,1220.8L1025.5,1217.4L1027.7,1220.8ZM1029.7,1217.3L1031.5,1212.7L1033.3,1217.3ZM1126,1223.2L1127.5,1219.5L1129,1223.2ZM1139.6,1229.9L1141.5,1226.7L1143.4,1229.9ZM1176.7,1239.5L1178.5,1234.3L1180.3,1239.5ZM1186.9,1239.6L1188.5,1233.8L1190.1,1239.6ZM1194.5,1271.7L1196.5,1274.9L1198.5,1271.7ZM1203.5,1271.6L1205.5,1274.8L1207.5,1271.6ZM1219.7,1237L1221.5,1231.4L1223.3,1237ZM1300.5,1265L1302.5,1271.3L1304.5,1265ZM1311.6,1252.2L1313.5,1255.8L1315.4,1252.2ZM1320.4,1218.5L1322.5,1213L1324.6,1218.5ZM1329.3,1260.2L1331.5,1265.7L1333.7,1260.2ZM1347,1253.9L1348.5,1249.1L1350,1253.9ZM1360.7,1258.3L1362.5,1252.4L1364.3,1258.3ZM1373.6,1290.9L1375.5,1294.4L1377.4,1290.9ZM1388.9,1293.2L1390.5,1297.2L1392.1,1293.2ZM1405.9,1262.9L1407.5,1256.8L1409.1,1262.9ZM1418.6,1297.8L1420.5,1303.9L1422.4,1297.8ZM1426.1,1267.3L1427.5,1264.4L1428.9,1267.3ZM1436.8,1298.3L1438.5,1304.7L1440.2,1298.3ZM1461.8,1296.1L1463.5,1300.4L1465.2,1296.1ZM1476.4,1264.3L1478.5,1258.4L1480.6,1264.3ZM1493.6,1293.9L1495.5,1299.7L1497.4,1293.9ZM1506.3,1285.6L1508.5,1291.6L1510.7,1285.6ZM1512.9,1278.9L1514.5,1283.6L1516.1,1278.9ZM1521.8,1241L1523.5,1235.5L1525.2,1241ZM1531,1242.9L1532.5,1239.9L1534,1242.9ZM1537.4,1248.3L1539.5,1243.2L1541.6,1248.3ZM1552.5,1262.5L1554.5,1256.9L1556.5,1262.5ZM1565.7,1298.8L1567.5,1303.4L1569.3,1298.8ZM1593.7,1273.9L1595.5,1269.8L1597.3,1273.9ZM1623.3,1273.4L1625.5,1267.5L1627.7,1273.4ZM1636.5,1301.1L1638.5,1305.3L1640.5,1301.1ZM1646,1290.1L1647.5,1293.4L1649,1290.1ZM1651.3,1251.6L1653.5,1245.5L1655.7,1251.6ZM1667.4,1228.5L1669.5,1225.5L1671.6,1228.5ZM1694.9,1238.4L1696.5,1234L1698.1,1238.4ZM1701.8,1241.3L1703.5,1235.7L1705.2,1241.3ZM1723.8,1275.2L1725.5,1281.2L1727.2,1275.2ZM1734.4,1285.3L1736.5,1290.8L1738.6,1285.3ZM1751,1304.9L1752.5,1309L1754,1304.9ZM1756,1280L1757.5,1275.3L1759,1280ZM1763.5,1316.5L1765.5,1322.1L1767.5,1316.5ZM1771.3,1288.4L1773.5,1285.1L1775.7,1288.4ZM1781.5,1287.7L1783.5,1281.4L1785.5,1287.7ZM1802.5,1324.3L1804.5,1330.3L1806.5,1324.3ZM1809.5,1322L1811.5,1325L1813.5,1322ZM1815.8,1324.7L1817.5,1329.8L1819.2,1324.7ZM1823.6,1294.7L1825.5,1289.4L1827.4,1294.7ZM1839,1298.6L1840.5,1294.2L1842,1298.6ZM1854,1328.1L1855.5,1332L1857,1328.1ZM1860.7,1328.5L1862.5,1333.5L1864.3,1328.5ZM1870.4,1297.6L1872.5,1293.3L1874.6,1297.6ZM1891.4,1284.3L1893.5,1281L1895.6,1284.3ZM1906.8,1301.8L1908.5,1305.4L1910.2,1301.8ZM1920.7,1276.5L1922.5,1272.3L1924.3,1276.5Z" fill="#8a0000" fill-opacity="0.85" stroke="#8a0000" stroke-opacity="0.85" stroke-width="1.5" stroke-linejoin="round"/>
<path d="M666.3,929.2v4M680.9,879.6v4M684.2,849.2v4M686.8,808.9v4M689.6,771.8v4M694.1,697.6v4M698.3,656.3v4M699.7,593.8v4M711.2,506.3v4M713.9,565v4M715.8,591.7v4M718.2,630.9v4M717,709.4v4M722.3,795.3v4M728.3,871.2v4M732.5,938.6v4M733.8,975.6v4M740,1024v4M751.1,1095.2v4M771.2,1109.2v4M782.5,1078v4M786.8,1042.4v4M800.5,1031.3v4M805.6,1070.7v4M817,1129v4M829.3,1171v4M829.9,1184.9v4M1049.7,1225.9v4M1053.3,1217.4v4M1062.4,1186.5v4M1073,1116.4v4M1080.9,1062.2v4M1089.3,1014.5v4M1092.4,1047.6v4M1096.4,1090.9v4M1101.4,1124.2v4M1109,1162.3v4M1113,1204.1v4M1120.7,1230.9v4M1234.2,1233.6v4M1239.8,1219.9v4M1247.6,1194.9v4M1257.4,1157.4v4M1260.7,1125.7v4M1269.4,1110.3v4M1280.3,1174.1v4M1286.5,1207.5v4M1296.4,1238.5v4" fill="none" stroke="#200000" stroke-opacity="0.38" stroke-width="3.6" stroke-linecap="round"/>

<path d="M713.6,404 L714.2,446" stroke="#7dff7d" stroke-width="5.5" stroke-linecap="round" fill="none"/>
<path d="M437.5,831.2 438.5,816.6 439.5,844.7 440.5,830.7 441.5,828.3 442.5,823.1 443.5,844.4 444.5,822.8 445,841.8 445.5,828.7 446.5,834.8 447.5,831.6 448.5,839.9 449.5,841.3 450.5,821.7 451.5,843.7 452.5,840.1 453,843.3 453.5,848.4 454.5,818 455.5,850.7 456.5,820.2 457.5,830.3 458.5,841.8 459.5,850.4 460,846.6 460.5,843.9 461.5,846.1 462.5,829 463.5,840.8 464.5,856.4 465.5,825.1 466.5,838.5 467.5,840.1 468.5,831.7 469.5,840 470.5,842.7 471.5,839.1 472.5,841.1 473,830.3 473.5,848.4 474.5,834.9 475.5,829.6 476.5,857.7 477.5,835.2 478.5,836 479.5,824.8 480.5,845.3 481.5,829.5 482.5,833.2 483.5,848.5 484.5,846.1 485.5,832.3 486.5,846.1 487,844.7 487.5,838.3 488.5,829.1 489.5,844.1 490.5,822.2 491.5,842.3 492.5,837.6 493.5,823.7 494.5,825.1 495.5,852.3 496.5,819.3 497.5,836.2 498.5,831.3 499.5,839.6 500,837.9 500.5,844.1 501.5,841.6 502.5,833 503.5,817.4 504.5,829 505.5,837.4 506.5,836.8 507.5,843.2 508.5,828.3 509.5,816.8 510.5,823.2 511.5,831.6 512.5,838.9 513,839 513.5,836.3 514.5,813.5 515.5,821.9 516.5,832.1 517.5,829 518.5,834.3 519.5,810.8 520.5,830.6 521.5,806.7 522.5,817.2 523.5,822.8 524.5,817.6 525.5,830.4 526.5,817.9 527,820.2 527.5,827.3 528.5,809.3 529.5,835 530.5,810.7 531.5,823.9 532.5,819 533.5,811.3 534.5,816.5 535.5,818.2 536.5,809 537.5,830.2 538.5,801.7 539.5,812.3 540,824.6 540.5,817.5 541.5,823.4 542.5,794.3 543.5,808 544.5,810.7 545.5,823.9 546.5,800.3 547.5,808.5 548.5,825.6 549.5,812.7 550.5,812.8 551.5,806.9 552.5,820.6 553,790.1 553.5,797.7 554.5,800.3 555.5,807.9 556.5,806.3 557.5,789.1 558.5,807.1 559.5,796 560.5,822.4 561.5,802.1 562.5,817 563.5,798.5 564.5,801.8 565.5,794.7 566.5,813.7 567,819 567.5,789.7 568.5,809.9 569.5,812.9 570.5,819.7 571.5,798.6 572.5,821 573.5,791.7 574.5,808.1 575.5,800.3 576.5,802.5 577.5,818.2 578.5,811.9 579.5,821 580,805 580.5,797.5 581.5,819.6 582.5,809.2 583.5,801.4 584.5,821.5 585.5,821.8 586.5,790.2 587.5,802.8 588.5,820.7 589.5,798.8 590.5,822.5 591.5,806.3 592.5,812.7 593,810 593.5,795.7 594.5,806.7 595.5,800.9 596.5,804.5 597.5,821.8 598.5,817.4 599.5,807.6 600.5,813.7 601.5,825.9 602.5,810.9 603.5,807.1 604.5,820.3 605.5,806 606.5,798.8 607,827.8 607.5,800.5 608.5,815.3 609.5,818.9 610.5,810.9 611.5,829.8 612.5,830.3 613.5,820.6 614.5,799 615.5,821.1 616.5,798.7 617.5,824 618.5,827.6 619.5,822.1 620,833 620.5,821.1 621.5,809.2 622.5,814.9 623.5,832.8 624.5,802.8 625.5,823.7 626.5,806.8 627.5,837.5 628.5,805.1 629.5,805.7 630.5,832.8 631.5,832.5 632.5,814.7 633,821 633.5,808 634.5,821.4 635.5,833.6 636.5,828.2 637.5,825 638.5,819.8 639.5,839.9 640.5,845.5 641.5,845.5 642.5,816.1 643.5,833.7 644.5,823.4 645.5,829.6 646.5,838.7 647,850 647.5,838.7 648.5,836.5 649.5,831.8 650.5,844.9 651.5,822.6 652.5,848.3 653.5,851.2 654.5,832.3 655.5,858.3 656.5,859.3 657.5,837.2 658.5,855.3 659.5,842.4 660,840.6 660.5,857.5 661.5,852.7 662.5,838.6 663.5,837.2 664.5,852.4 665.5,839.2 666.5,841.1 667.5,850.5 668,849.6 668.5,853.2 669.5,855.7 670.5,836.4 671.5,848.9 672.5,828.8 673,835.9 673.5,839.5 674.5,835.7 675.5,812.2 676.5,824.9 677,813.1 677.5,813.3 678.5,812.9 679.5,815.1 680.5,812.3 681.5,803.5 682.5,794.1 683.5,789 684,778.9 684.5,788.3 685.5,798.1 686.5,796.9 687,798.4 687.5,799.3 688.5,799.1 689.5,798.9 690,798.7 690.5,791 691.5,776.5 692.5,759.1 693,750.2 693.5,741 694.5,725.2 695.5,708.5 696,699.6 696.5,689.5 697.5,670.1 698.5,649.7 699.5,637.2 700.5,625 701.5,593.3 702.5,561.4 702.8,552.2 703.5,538.4 704.5,518.9 705.5,499.5 706.5,480.1 707.2,410 707.5,408.1 708.5,402 709,399 709.5,397.4 710.5,394.2 711.5,391 711.8,390 712.5,370.6 713,356.4 713.5,364.5 714.5,379.8 715.5,384.8 716.5,389.6 717,392 717.5,393.6 718.5,396.7 719.5,399.9 720.5,403 721.2,420 721.4,480 721.5,482.8 722.5,510.5 723.5,538.1 724,552 724.5,562.1 725.5,582.4 726.5,602.7 727.5,623 727.6,624.7 728.5,645.3 729.5,667.4 730.5,689.6 731,700.4 731.5,710.7 732.5,730.9 733.5,750.1 734.5,768.8 735.5,789.5 736,801.2 736.5,806 737.5,822 738.5,835.9 739.5,852.3 740.5,861.4 741.5,870.8 742.5,881.1 743.5,888.8 744.5,903.2 745.5,906.6 746.5,908.1 747.5,912.8 748.5,920.2 749.5,921.3 750.5,925.3 751.5,935.4 752.5,935.8 753.4,943.1 753.5,946.8 754.5,939.4 755.5,956.6 756.5,957.5 757.5,948.7 758.5,950.8 759.5,963.2 760.5,968.1 761.5,964.4 762.5,971.2 763,973.2 763.5,973.1 764.5,979.4 765.5,987.4 766.5,988.8 767.5,975.8 768.5,982.2 769.5,979.5 770.5,985 771.5,983.5 772.5,999.8 773,997.1 773.5,983.6 774.5,999 775.5,980.8 776.5,986.6 777.5,988 778.5,981.1 779.5,977.6 780.5,983.5 781.5,985.5 782.5,978.5 783,987.4 783.5,981.5 784.5,969.7 785.5,973.9 786.5,963.4 787.5,964.5 788.5,962 789.5,957.2 790,960.6 790.5,951.3 791.5,949.2 792.5,940.1 793.5,928.1 794.5,930.2 795.5,930.6 796.5,916 797.5,923.5 798,921.8 798.5,924.3 799.5,917.7 800.5,917.9 801.5,910.7 802.5,906.9 803.5,906.7 804.5,901.5 805.5,902.2 806.5,896.9 806.7,898.8 807.5,900.4 808.5,904.6 809.5,907.8 810.5,913.2 811.5,918.1 812.5,917.6 813,919.3 813.5,926.9 814.5,927 815.5,941 816.5,949.3 817.5,947.4 818.5,962.3 819.5,961.1 820,959 820.5,973.9 821.5,974.8 822.5,975.9 823.5,983.8 824.5,996.3 825.5,1002.2 826.5,1001.1 827,999.2 827.5,1004.4 828.5,1015.7 829.5,1018.4 830.5,1025.4 831.5,1031.1 832.5,1041.5 833,1036.6 833.5,1039.1 834.5,1036.6 835.5,1045.6 836.5,1043.3 837.5,1049.6 838.5,1056.4 839.5,1056.3 840,1060.3 840.5,1053.3 841.5,1062 842.5,1067.8 843.5,1069.1 844.5,1073.8 845.5,1069.5 846.5,1080.2 847.5,1074.6 848.5,1078.8 849.5,1089.3 850,1093.4 850.5,1090.2 851.5,1078.9 852.5,1085.2 853.5,1085.6 854.5,1090.6 855.5,1100.6 856.5,1100.3 857.5,1085.6 858.5,1097.6 859.5,1098.4 860.5,1093.3 861.5,1096.6 862.5,1108.6 863,1100.1 863.5,1100.5 864.5,1099.3 865.5,1092.8 866.5,1104.7 867.5,1110.9 868.5,1115.2 869.5,1116.2 870.5,1100.2 871.5,1107.8 872.5,1104.9 873.5,1111.4 874.5,1102.8 875.5,1112.9 876.5,1116.2 877.5,1116.8 878.5,1115.9 879.5,1121 880,1112.9 880.5,1111.7 881.5,1114.8 882.5,1113.8 883.5,1119.1 884.5,1124.2 885.5,1116.9 886.5,1107.9 887.5,1108.5 888.5,1122.3 889.5,1124.1 890.5,1124.3 891.5,1111 892.5,1127.2 893.5,1132.2 894.5,1123 895.5,1122.2 896.5,1131.9 897.5,1120.1 898.5,1118.5 899.5,1134.2 900.5,1120.5 901.5,1131.9 902.5,1124.4 903,1126.2 903.5,1122.4 904.5,1132.1 905.5,1128.8 906.5,1128.4 907.5,1126.9 908.5,1126.4 909.5,1137.9 910.5,1136.4 911.5,1137.7 912.5,1123.9 913.5,1134.8 914.5,1122.2 915.5,1142.2 916.5,1142.6 917.5,1142.6 918.5,1136.9 919.5,1137.8 920,1133.1 920.5,1129 921.5,1140.5 922.5,1141.8 923.5,1132.4 924.5,1126.2 925.5,1132.1 926.5,1133.2 927.5,1131.6 928.5,1126.8 929.5,1127.1 930.5,1137 931.5,1147.1 932.5,1128 933.5,1138.7 934.5,1135.8 935.5,1140.4 936.5,1139 937,1146 937.5,1139 938.5,1134.1 939.5,1139.9 940.5,1139.2 941.5,1143.9 942.5,1142.1 943.5,1142.2 944.5,1138.4 945.5,1137 946.5,1136.3 947.5,1139.4 948.5,1146 949.5,1147.8 950.5,1134 951.5,1136.6 952.5,1137.7 953,1147.7 953.5,1132.2 954.5,1138.5 955.5,1128.3 956.5,1140.3 957.5,1131.8 958.5,1137.8 959.5,1144 960.5,1128.9 961.5,1128.3 962.5,1140.6 963.5,1133.7 964.5,1141.3 965.5,1147.7 966.5,1131.4 967.5,1129.2 968.5,1132.1 969.5,1128.3 970.5,1132.5 971.5,1144.9 972.5,1132.4 973.5,1128.3 974.5,1140.5 975.5,1141.3 976.5,1128.3 977.5,1138.4 978.5,1134.5 979.5,1140.5 980.5,1132.6 981.5,1134.9 982.5,1130.4 983.5,1147.7 984.5,1141.7 985.5,1143 986.5,1143 987,1139 987.5,1146.9 988.5,1141.8 989.5,1147.4 990.5,1143.9 991.5,1147.2 992.5,1129 993.5,1134 994.5,1134.6 995.5,1127.6 996.5,1133.7 997.5,1133.8 998.5,1129.5 999.5,1142.2 1000.5,1132.8 1001.5,1137.3 1002.5,1126.3 1003.5,1134.8 1004.5,1131 1005.5,1131 1006.5,1142.8 1007.5,1138.4 1008.5,1128.8 1009.5,1129.3 1010.5,1140.6 1011.5,1130.2 1012.5,1133.8 1013.5,1144.3 1014.5,1143.2 1015.5,1135.1 1016.5,1134.5 1017.5,1136.3 1018.5,1133.3 1019.5,1134.7 1020,1142.5 1020.5,1136.8 1021.5,1135.2 1022.5,1131.8 1023.5,1138.6 1024.5,1128.7 1025.5,1134.4 1026.5,1123.4 1027.5,1127.8 1028.5,1131.4 1029.5,1124.7 1030.5,1129.8 1031.5,1128.1 1032.5,1123.8 1033.5,1130.6 1034.5,1127.4 1035.5,1122.3 1036.5,1125.6 1037,1129.9 1037.5,1117.1 1038.5,1114.5 1039.5,1127.5 1040.5,1114 1041.5,1115.6 1042.5,1108.6 1043.5,1115.3 1044.5,1117.6 1045.5,1105.5 1046.5,1116.3 1047.5,1105 1048.5,1109.4 1049.5,1118.2 1050.5,1119.8 1051.5,1108.1 1052.5,1116 1053,1103.4 1053.5,1112.4 1054.5,1095.5 1055.5,1105.4 1056.5,1099 1057.5,1093.5 1058.5,1095.5 1059.5,1092.9 1060.5,1091.8 1061.5,1093.9 1062.5,1084.6 1063,1083.7 1063.5,1085.3 1064.5,1078.8 1065.5,1077.3 1066.5,1067.2 1066.7,1077 1067.5,1065 1068.5,1071.5 1069.5,1066.2 1070.5,1058.3 1071.5,1059.1 1072.5,1057.9 1073.5,1049.7 1074.5,1048.2 1074.7,1044.6 1075.5,1042.8 1076.5,1033.4 1077.5,1028.8 1078.5,1020 1079.5,1010.3 1080,1004.6 1080.5,1003.6 1081.5,994.2 1082.5,980.9 1083.5,973.9 1084,967.7 1084.5,963 1085.5,955.9 1086.5,951.5 1087.5,948 1088.5,937.5 1089.5,933.5 1090.5,927.4 1090.7,923.5 1091.5,918.2 1092.5,917.9 1093.5,914.2 1094.5,904.6 1095.5,898.7 1096,897 1096.5,894.7 1097.5,890.2 1098.5,885.6 1099.5,881.1 1100,878.8 1100.5,884.6 1101.5,896.2 1102,902 1102.5,927 1103.5,932.8 1104.5,938.5 1105.5,944.4 1106.5,949.8 1107.5,955.6 1108.5,961.4 1109.4,966.4 1109.5,965.9 1110.5,976.1 1111.5,980.1 1112.5,989.6 1113.5,995.4 1114.5,1004.7 1114.7,1003 1115.5,1014.5 1116.5,1019.9 1117.5,1024 1118.5,1034.1 1119.5,1036.7 1120.5,1040.8 1121.4,1041.9 1121.5,1042.9 1122.5,1053.6 1123.5,1061 1124.5,1057.2 1125.5,1066.4 1126.5,1064.6 1127.5,1069.9 1128,1070 1128.5,1072.4 1129.5,1073.9 1130.5,1079.9 1131.5,1074.5 1132.5,1090.2 1133.5,1088 1134.5,1078 1135.5,1079 1136.5,1100.5 1137.5,1086.1 1138.5,1098.5 1139.5,1090.5 1140,1107.6 1140.5,1089.1 1141.5,1109.4 1142.5,1103.9 1143.5,1099.9 1144.5,1101.5 1145.5,1098.9 1146.5,1096.2 1147.5,1110.9 1148.5,1118.5 1149.5,1107.9 1150.5,1114.2 1151.5,1118.3 1152.5,1103.9 1153,1110.9 1153.5,1104.7 1154.5,1120.1 1155.5,1110.3 1156.5,1127.9 1157.5,1125.6 1158.5,1114.7 1159.5,1124.8 1160.5,1124.4 1161.5,1120.4 1162.5,1124.3 1163.5,1127.2 1164.5,1117.9 1165.5,1136.5 1166.5,1126 1167.5,1126.1 1168.5,1136.5 1169.5,1127.3 1170,1143.5 1170.5,1141.6 1171.5,1134.7 1172.5,1143.7 1173.5,1143.9 1174.5,1132.6 1175.5,1125.2 1176.5,1125.3 1177.5,1131 1178.5,1141.1 1179.5,1140.1 1180.5,1135.8 1181.5,1145.2 1182.5,1135.2 1183.5,1141.3 1184.5,1129.3 1185.5,1132.6 1186.5,1137.4 1187.5,1143.8 1188.5,1126.5 1189.5,1145.9 1190.5,1130.3 1191.5,1144.2 1192.5,1136.3 1193.5,1128.6 1194.5,1132 1195.5,1146.8 1196.5,1137 1197.5,1134.9 1198.5,1128.4 1199.5,1131.1 1200.5,1146.6 1201.5,1147.5 1202.5,1147.7 1203,1141.9 1203.5,1135.5 1204.5,1130.8 1205.5,1147.1 1206.5,1134.4 1207.5,1128.3 1208.5,1134.7 1209.5,1135.9 1210.5,1143.7 1211.5,1135 1212.5,1144.8 1213.5,1141.1 1214.5,1136.5 1215.5,1125 1216.5,1124.7 1217.5,1134.8 1218.5,1138.8 1219.5,1143.5 1220.5,1123.6 1221.5,1138 1222.5,1137.2 1223.5,1139.4 1224.5,1133.9 1225.5,1131.2 1226.5,1131.9 1227.5,1134.2 1228.5,1138.7 1229.5,1126 1230,1127.9 1230.5,1125.1 1231.5,1129 1232.5,1117.7 1233.5,1134.4 1234.5,1124.6 1235.5,1115.6 1236.5,1119 1237.5,1116.5 1238.5,1113.1 1239.5,1114.7 1240.5,1122.8 1241.5,1119.9 1242.5,1104 1243.5,1110.1 1244.5,1109.1 1245.5,1100.1 1246.5,1102.8 1247,1101.9 1247.5,1101.2 1248.5,1090.6 1249.5,1087.3 1250.5,1093.5 1251.5,1088.2 1252.5,1084.6 1253.5,1080.4 1254.5,1069.5 1255.5,1072.2 1256.5,1064.2 1257,1067.4 1257.5,1059.7 1258.5,1057.4 1259.5,1045.9 1260.5,1049.3 1261.5,1037.4 1262.5,1033.3 1263.5,1022.4 1264.5,1026.4 1265,1021.6 1265.5,1022.4 1266.5,1008.1 1267.5,1010.5 1268.5,1004.1 1269.5,999.4 1270,1000.1 1270.5,995.1 1271.5,998 1272.5,985.3 1273.5,983.3 1274.5,980.3 1275.5,979.6 1276.5,973.6 1277.5,969.8 1278,969.6 1278.5,972.3 1279.5,973.6 1280.5,978.4 1281.5,980.9 1282.5,985.3 1283.5,989.2 1284.5,988.8 1285.5,999.7 1286.5,998.2 1287,1003.3 1287.5,1006.6 1288.5,1007.7 1289.5,1023.5 1290.5,1024 1291.5,1029.5 1292.5,1041.5 1293,1048.9 1293.5,1051 1294.5,1046.5 1295.5,1054.3 1296.5,1060.8 1297.5,1063.6 1298.5,1067.2 1299.5,1072.6 1300,1072.1 1300.5,1085.5 1301.5,1082 1302.5,1079 1303.5,1087.2 1304.5,1095.6 1305.5,1089.9 1306.5,1100.1 1307.5,1088.9 1308.5,1096.9 1309.5,1111.6 1310,1103.7 1310.5,1095.2 1311.5,1111.7 1312.5,1100.8 1313.5,1108.3 1314.5,1101 1315.5,1092.5 1316.5,1111.3 1317.5,1099.8 1318.5,1089.7 1319.5,1108.2 1320.5,1099.8 1321.5,1109.1 1322.5,1106.6 1323,1100 1323.5,1088.1 1324.5,1089 1325.5,1098.6 1326.5,1090.9 1327.5,1102.5 1328.5,1110.1 1329.5,1107 1330.5,1114.7 1331.5,1112 1332.5,1109.5 1333.5,1104.8 1334.5,1103.1 1335.5,1107.2 1336.5,1110.2 1337,1118.9 1337.5,1109.7 1338.5,1107.3 1339.5,1108.4 1340.5,1109.7 1341.5,1112.6 1342.5,1130.1 1343.5,1129.3 1344.5,1125.2 1345.5,1129.1 1346.5,1125.7 1347.5,1122.8 1348.5,1122.4 1349.5,1133.7 1350,1138.3 1350.5,1141.4 1351.5,1131.5 1352.5,1139.6 1353.5,1129.9 1354.5,1139.8 1355.5,1137.1 1356.5,1142.5 1357.5,1132.1 1358.5,1142.5 1359.5,1142.3 1360.5,1141 1361.5,1151.6 1362.5,1149.6 1363.5,1151.9 1364.5,1157.7 1365.5,1143.3 1366.5,1155.4 1367.5,1142.3 1368.5,1151.1 1369.5,1145.5 1370,1148.4 1370.5,1156.4 1371.5,1160.2 1372.5,1158.1 1373.5,1160.9 1374.5,1160.5 1375.5,1154.6 1376.5,1159.3 1377.5,1154.6 1378.5,1150 1379.5,1163 1380.5,1154.7 1381.5,1148.2 1382.5,1148.5 1383.5,1159.8 1384.5,1157.5 1385.5,1156 1386.5,1160.4 1387.5,1156.4 1388.5,1156.3 1389.5,1152.1 1390.5,1162.1 1391.5,1168.3 1392.5,1154.6 1393.5,1155.7 1394.5,1164.4 1395.5,1164.9 1396.5,1166 1397.5,1158.1 1398.5,1162.9 1399.5,1158.7 1400.5,1164.4 1401.5,1155.4 1402.5,1164.9 1403,1154.9 1403.5,1173.2 1404.5,1155.1 1405.5,1164.2 1406.5,1171.5 1407.5,1162.9 1408.5,1167.6 1409.5,1157.6 1410.5,1169.9 1411.5,1172.2 1412.5,1171.8 1413.5,1162.6 1414.5,1173.6 1415.5,1167.4 1416.5,1165.7 1417.5,1161.4 1418.5,1170.1 1419.5,1168.7 1420.5,1162.4 1421.5,1161 1422.5,1166.1 1423.5,1157.4 1424.5,1171.9 1425.5,1171.5 1426.5,1173.1 1427.5,1164.3 1428.5,1176 1429.5,1169.6 1430.5,1176.2 1431.5,1171.8 1432.5,1174 1433.5,1163 1434.5,1176 1435.5,1165 1436.5,1158.9 1437,1167.1 1437.5,1177 1438.5,1173 1439.5,1170.2 1440.5,1161.8 1441.5,1175.3 1442.5,1170.5 1443.5,1163.7 1444.5,1172.6 1445.5,1165.3 1446.5,1162.8 1447.5,1169.7 1448.5,1170.7 1449.5,1162.1 1450.5,1178.2 1451.5,1165.4 1452.5,1171.8 1453.5,1165.9 1454.5,1165.4 1455.5,1167.2 1456.5,1164.4 1457.5,1168.3 1458.5,1171.4 1459.5,1162.1 1460.5,1173.3 1461.5,1174.1 1462.5,1168.4 1463.5,1173.7 1464.5,1173.2 1465.5,1175.9 1466.5,1171.6 1467.5,1168 1468.5,1166.8 1469.5,1169.3 1470,1170 1470.5,1174.9 1471.5,1166.3 1472.5,1167.2 1473.5,1168.1 1474.5,1179.1 1475.5,1179.5 1476.5,1164.5 1477.5,1162.3 1478.5,1161.3 1479.5,1170.1 1480.5,1171.3 1481.5,1171.3 1482.5,1168.1 1483.5,1170.5 1484.5,1172.1 1485.5,1178.6 1486.5,1169.5 1487.5,1173.2 1488.5,1166.6 1489.5,1170.2 1490.5,1170.5 1491.5,1178 1492.5,1163.7 1493.5,1167.1 1494.5,1163.7 1495.5,1170.6 1496.5,1169 1497.5,1161.8 1498.5,1169.4 1499.5,1169.3 1500.5,1168.1 1501.5,1165.8 1502.5,1172.2 1503,1168.6 1503.5,1168.4 1504.5,1167.9 1505.5,1163.5 1506.5,1165.4 1507.5,1166 1508.5,1161.6 1509.5,1169.2 1510.5,1157.7 1511.5,1168.1 1512.5,1160.4 1513.5,1158.7 1514.5,1162.7 1515.5,1161.1 1516.5,1166.7 1517.5,1156.3 1518.5,1155.2 1519.5,1161.7 1520,1170 1520.5,1153.7 1521.5,1166.5 1522.5,1168.2 1523.5,1155.2 1524.5,1164.9 1525.5,1156.3 1526.5,1153.1 1527.5,1153.1 1528.5,1152.3 1529.5,1147.7 1530.5,1152.5 1531.5,1148.4 1532.5,1160.7 1533.5,1159 1534.5,1149.4 1535.5,1148.6 1536.5,1154.2 1537,1157.3 1537.5,1157.2 1538.5,1152 1539.5,1156.4 1540.5,1137.2 1541.5,1136.9 1542.5,1148.3 1543.5,1140.5 1544.5,1145.4 1545.5,1143.4 1546.5,1145.5 1547,1146.1 1547.5,1142.5 1548.5,1143.1 1549.5,1152.1 1550.5,1147.1 1551.5,1146.7 1552.5,1147.5 1553.5,1145.7 1554.5,1145 1555.5,1161.2 1556.5,1145.8 1557,1155 1557.5,1154.2 1558.5,1154.5 1559.5,1159.1 1560.5,1166.7 1561.5,1167.8 1562.5,1158.3 1563.5,1152.1 1564.5,1163.5 1565.5,1162.2 1566.5,1159.1 1567.5,1169.7 1568.5,1164.5 1569.5,1164.7 1570,1176.7 1570.5,1174 1571.5,1167.4 1572.5,1177.9 1573.5,1171.2 1574.5,1167.5 1575.5,1167.5 1576.5,1168.9 1577.5,1169.8 1578.5,1166.7 1579.5,1169.8 1580.5,1164.8 1581.5,1165 1582.5,1175.8 1583.5,1177.9 1584.5,1173.9 1585.5,1168.4 1586.5,1173.9 1587.5,1167.9 1588.5,1169 1589.5,1172.9 1590.5,1179.7 1591.5,1187.1 1592.5,1181.8 1593.5,1176 1594.5,1173.3 1595.5,1182.6 1596.5,1185.2 1597,1178.1 1597.5,1185.6 1598.5,1186.3 1599.5,1179.4 1600.5,1179.5 1601.5,1174.8 1602.5,1171.6 1603.5,1178.2 1604.5,1179.4 1605.5,1175.3 1606.5,1175.5 1607.5,1183.2 1608.5,1177.1 1609.5,1188.1 1610.5,1180.4 1611.5,1183.8 1612.5,1175.9 1613.5,1175.6 1614.5,1174.2 1615.5,1171.9 1616.5,1184.8 1617.5,1182.3 1618.5,1174.1 1619.5,1178.4 1620,1178.4 1620.5,1173.5 1621.5,1177.5 1622.5,1171.7 1623.5,1176.9 1624.5,1180.3 1625.5,1175 1626.5,1182.9 1627.5,1179.7 1628.5,1167.7 1629.5,1177.2 1630.5,1174.4 1631.5,1173.3 1632.5,1167.4 1633.5,1179.4 1634.5,1169.2 1635.5,1178.9 1636.5,1177.7 1637.5,1180.8 1638.5,1171.4 1639.5,1180 1640.5,1168.8 1641.5,1182.4 1642.5,1175.5 1643,1173.1 1643.5,1173.8 1644.5,1177 1645.5,1166.7 1646.5,1171.2 1647.5,1166.6 1648.5,1169.3 1649.5,1164.1 1650.5,1168.1 1651.5,1172 1652.5,1161.2 1653.5,1165.2 1654.5,1170.5 1655.5,1166 1656.5,1169.4 1657.5,1155.3 1658.5,1156.9 1659.5,1161.3 1660,1166.7 1660.5,1156.8 1661.5,1163.8 1662.5,1151.7 1663.5,1163.7 1664.5,1148 1665.5,1160.9 1666.5,1147.4 1667.5,1146.8 1668.5,1142.4 1669.5,1144.7 1670.5,1153.8 1671.5,1145.8 1672.5,1139.8 1673,1137.7 1673.5,1144.6 1674.5,1131.3 1675.5,1141.4 1676.5,1140.3 1677.5,1134.6 1678.5,1136.7 1679.5,1133.7 1680.5,1136.7 1681.5,1132.7 1682.5,1136.7 1683.5,1127.8 1684.5,1131.8 1685.5,1129 1686.5,1123 1687,1121.1 1687.5,1134.3 1688.5,1118.3 1689.5,1118.3 1690.5,1132 1691.5,1133.4 1692.5,1133.1 1693.5,1137.6 1694.5,1131.1 1695.5,1132.8 1696.5,1128.1 1697.5,1131.1 1698.5,1137.3 1699.5,1130.3 1700,1121.9 1700.5,1120.6 1701.5,1135 1702.5,1123.7 1703.5,1129.1 1704.5,1130.1 1705.5,1145.9 1706.5,1136.3 1707.5,1137.1 1708.5,1145.7 1709.5,1143.9 1710,1135 1710.5,1140.5 1711.5,1135.3 1712.5,1143.9 1713.5,1147.2 1714.5,1142.6 1715.5,1153.8 1716.5,1135.6 1717.5,1153 1718.5,1141.9 1719.5,1145 1720.5,1140.4 1721.5,1144.2 1722.5,1146.9 1723.5,1136.5 1724.5,1141 1725.5,1138.8 1726.5,1138.4 1727.5,1147.7 1728.5,1144.2 1729.5,1149.3 1730.5,1144.9 1731.5,1147.2 1732.5,1156.7 1733.5,1152.8 1734.5,1140.7 1735.5,1141.9 1736.5,1149.2 1737,1152 1737.5,1143.2 1738.5,1140 1739.5,1147.3 1740.5,1157.8 1741.5,1152.1 1742.5,1147.8 1743.5,1150.3 1744.5,1147.3 1745.5,1156.1 1746.5,1144.6 1747.5,1151.6 1748.5,1157.4 1749.5,1152.4 1750,1159.7 1750.5,1160.8 1751.5,1166.1 1752.5,1156.4 1753.5,1151 1754.5,1150 1755.5,1158.2 1756.5,1151.1 1757.5,1166.3 1758.5,1154.9 1759.5,1155.4 1760.5,1158.3 1761.5,1163.8 1762.5,1159.8 1763.5,1165.2 1764.5,1162 1765.5,1168 1766.5,1173.7 1767,1161.4 1767.5,1166.2 1768.5,1158.9 1769.5,1166.8 1770.5,1177.4 1771.5,1174.1 1772.5,1179 1773.5,1171.2 1774.5,1164.9 1775.5,1177.1 1776.5,1181.3 1777.5,1172.3 1778.5,1168.7 1779.5,1165.9 1780.5,1175.6 1781.5,1182.5 1782.5,1168.7 1783.5,1173.5 1784.5,1172.7 1785.5,1181.5 1786.5,1175.7 1787.5,1185.8 1788.5,1174.1 1789.5,1178.5 1790.5,1179.8 1791.5,1178.9 1792.5,1181.8 1793,1181.2 1793.5,1185.4 1794.5,1180.6 1795.5,1181.8 1796.5,1179.2 1797.5,1187.4 1798.5,1186.3 1799.5,1175 1800.5,1187.6 1801.5,1191.2 1802.5,1177.5 1803.5,1182.1 1804.5,1188.5 1805.5,1186.9 1806.5,1183.7 1807.5,1193.8 1808.5,1184.5 1809.5,1188.3 1810.5,1194.6 1811.5,1184.2 1812.5,1190.5 1813.5,1181.6 1814.5,1184.4 1815.5,1188.5 1816.5,1185.1 1817.5,1186.2 1818.5,1186.7 1819.5,1184.5 1820,1191.2 1820.5,1197.3 1821.5,1185.9 1822.5,1180.6 1823.5,1185.5 1824.5,1185.6 1825.5,1192.8 1826.5,1191.3 1827.5,1182.3 1828.5,1190.7 1829.5,1181.6 1830.5,1192.8 1831.5,1197.5 1832.5,1183.8 1833.5,1192.8 1834.5,1187.7 1835.5,1187 1836.5,1191.4 1837.5,1192.9 1838.5,1188.2 1839.5,1187.6 1840.5,1188.6 1841.5,1194.3 1842.5,1200.5 1843.5,1196.5 1844.5,1183.9 1845.5,1192.7 1846.5,1184.2 1847,1198.6 1847.5,1195.5 1848.5,1197.9 1849.5,1198.4 1850.5,1193.7 1851.5,1192.3 1852.5,1200.5 1853.5,1191.9 1854.5,1196.7 1855.5,1189.3 1856.5,1189.7 1857.5,1196.9 1858.5,1192.1 1859.5,1191.2 1860.5,1196.7 1861.5,1185.6 1862.5,1186.7 1863.5,1192.7 1864.5,1201.4 1865.5,1198.5 1866.5,1196.9 1867.5,1191 1868.5,1196.6 1869.5,1192.9 1870.5,1186.5 1871.5,1188.8 1872.5,1203.3 1873,1195.2 1873.5,1194.5 1874.5,1198.7 1875.5,1198.5 1876.5,1193.7 1877.5,1192.4 1878.5,1187.7 1879.5,1200.3 1880.5,1196.4 1881.5,1192.2 1882.5,1191.5 1883.5,1185.7 1884.5,1196.6 1885.5,1197.5 1886.5,1185.5 1887.5,1189.2 1888.5,1195.9 1889.5,1186.9 1890.5,1180.3 1891.5,1177.7 1892.5,1189.1 1893,1184.2 1893.5,1189.8 1894.5,1179.1 1895.5,1188.5 1896.5,1182.1 1897.5,1173.1 1898.5,1183.3 1899.5,1180.6 1900.5,1172.2 1901.5,1181 1902.5,1174 1903.5,1171 1904.5,1171.7 1905.5,1170.6 1906.5,1174.3 1907,1170.6 1907.5,1168.4 1908.5,1168.9 1909.5,1171.7 1910.5,1171.6 1911.5,1165.1 1912.5,1167.5 1913.5,1162.1 1914.5,1157.4 1915.5,1164.6 1916.5,1172.3 1917.5,1162.8 1918.5,1162 1919.5,1154.3 1920,1157 1920.5,1165.6 1921.5,1155.5 1922.5,1157.5 1923.5,1155.3 1924.5,1168.9 1925.5,1167.9 1926.5,1165.7 1927.5,1168.2 1928,1162.5 1928.5,1161.1 1929.5,1163.2 1930.5,1165.6 1931.5,1169.1 1932.5,1153.6 1933,1154 1933.5,1167.7 1934.5,1162.3 1935.5,1166.4 1936.5,1167.8 1937.5,1156.8" fill="none" stroke="#00f000" stroke-width="8.6" stroke-linejoin="round" stroke-linecap="round"/>
<path d="M662.5,838.6 663.5,837.2 664.5,852.4 665.5,839.2 666.5,841.1 667.5,850.5 668,849.6 668.5,853.2 669.5,855.7 670.5,836.4 671.5,848.9 672.5,828.8 673,835.9 673.5,839.5 674.5,835.7 675.5,812.2 676.5,824.9 677,813.1 677.5,813.3 678.5,812.9 679.5,815.1 680.5,812.3 681.5,803.5 682.5,794.1 683.5,789 684,778.9 684.5,788.3 685.5,798.1 686.5,796.9 687,798.4 687.5,799.3 688.5,799.1 689.5,798.9 690,798.7 690.5,791 691.5,776.5 692.5,759.1 693,750.2 693.5,741 694.5,725.2 695.5,708.5 696,699.6 696.5,689.5 697.5,670.1 698.5,649.7 699.5,637.2 700.5,625 701.5,593.3 702.5,561.4 702.8,552.2 703.5,538.4 704.5,518.9 705.5,499.5 706.5,480.1 707.2,410 707.5,408.1 708.5,402 709,399 709.5,397.4 710.5,394.2 711.5,391 711.8,390 712.5,370.6 713,356.4 713.5,364.5 714.5,379.8 715.5,384.8 716.5,389.6 717,392 717.5,393.6 718.5,396.7 719.5,399.9 720.5,403 721.2,420 721.4,480 721.5,482.8 722.5,510.5 723.5,538.1 724,552 724.5,562.1 725.5,582.4 726.5,602.7 727.5,623 727.6,624.7 728.5,645.3 729.5,667.4 730.5,689.6 731,700.4 731.5,710.7 732.5,730.9 733.5,750.1 734.5,768.8 735.5,789.5 736,801.2 736.5,806 737.5,822 738.5,835.9 739.5,852.3 740.5,861.4 741.5,870.8 742.5,881.1 743.5,888.8 744.5,903.2 745.5,906.6 746.5,908.1 747.5,912.8 748.5,920.2 749.5,921.3 750.5,925.3 751.5,935.4 752.5,935.8 753.4,943.1 753.5,946.8 754.5,939.4 755.5,956.6 756.5,957.5 757.5,948.7 758.5,950.8 759.5,963.2 760.5,968.1 761.5,964.4 762.5,971.2 763,973.2 763.5,973.1 764.5,979.4 765.5,987.4 766.5,988.8 767.5,975.8 768.5,982.2M777.5,988 778.5,981.1 779.5,977.6 780.5,983.5 781.5,985.5 782.5,978.5 783,987.4 783.5,981.5 784.5,969.7 785.5,973.9 786.5,963.4 787.5,964.5 788.5,962 789.5,957.2 790,960.6 790.5,951.3 791.5,949.2 792.5,940.1 793.5,928.1 794.5,930.2 795.5,930.6 796.5,916 797.5,923.5 798,921.8 798.5,924.3 799.5,917.7 800.5,917.9 801.5,910.7 802.5,906.9 803.5,906.7 804.5,901.5 805.5,902.2 806.5,896.9 806.7,898.8 807.5,900.4 808.5,904.6 809.5,907.8 810.5,913.2 811.5,918.1 812.5,917.6 813,919.3 813.5,926.9 814.5,927 815.5,941 816.5,949.3 817.5,947.4 818.5,962.3 819.5,961.1 820,959 820.5,973.9 821.5,974.8 822.5,975.9 823.5,983.8 824.5,996.3 825.5,1002.2 826.5,1001.1 827,999.2 827.5,1004.4 828.5,1015.7 829.5,1018.4 830.5,1025.4 831.5,1031.1 832.5,1041.5 833,1036.6 833.5,1039.1 834.5,1036.6 835.5,1045.6 836.5,1043.3 837.5,1049.6 838.5,1056.4 839.5,1056.3 840,1060.3 840.5,1053.3 841.5,1062 842.5,1067.8 843.5,1069.1 844.5,1073.8 845.5,1069.5 846.5,1080.2M1056.5,1099 1057.5,1093.5 1058.5,1095.5 1059.5,1092.9 1060.5,1091.8 1061.5,1093.9 1062.5,1084.6 1063,1083.7 1063.5,1085.3 1064.5,1078.8 1065.5,1077.3 1066.5,1067.2 1066.7,1077 1067.5,1065 1068.5,1071.5 1069.5,1066.2 1070.5,1058.3 1071.5,1059.1 1072.5,1057.9 1073.5,1049.7 1074.5,1048.2 1074.7,1044.6 1075.5,1042.8 1076.5,1033.4 1077.5,1028.8 1078.5,1020 1079.5,1010.3 1080,1004.6 1080.5,1003.6 1081.5,994.2 1082.5,980.9 1083.5,973.9 1084,967.7 1084.5,963 1085.5,955.9 1086.5,951.5 1087.5,948 1088.5,937.5 1089.5,933.5 1090.5,927.4 1090.7,923.5 1091.5,918.2 1092.5,917.9 1093.5,914.2 1094.5,904.6 1095.5,898.7 1096,897 1096.5,894.7 1097.5,890.2 1098.5,885.6 1099.5,881.1 1100,878.8 1100.5,884.6 1101.5,896.2 1102,902 1102.5,927 1103.5,932.8 1104.5,938.5 1105.5,944.4 1106.5,949.8 1107.5,955.6 1108.5,961.4 1109.4,966.4 1109.5,965.9 1110.5,976.1 1111.5,980.1 1112.5,989.6 1113.5,995.4 1114.5,1004.7 1114.7,1003 1115.5,1014.5 1116.5,1019.9 1117.5,1024 1118.5,1034.1 1119.5,1036.7 1120.5,1040.8 1121.4,1041.9 1121.5,1042.9 1122.5,1053.6 1123.5,1061 1124.5,1057.2 1125.5,1066.4 1126.5,1064.6 1127.5,1069.9 1128,1070 1128.5,1072.4 1129.5,1073.9 1130.5,1079.9 1131.5,1074.5 1132.5,1090.2 1133.5,1088 1134.5,1078M1240.5,1122.8 1241.5,1119.9 1242.5,1104 1243.5,1110.1 1244.5,1109.1 1245.5,1100.1 1246.5,1102.8 1247,1101.9 1247.5,1101.2 1248.5,1090.6 1249.5,1087.3 1250.5,1093.5 1251.5,1088.2 1252.5,1084.6 1253.5,1080.4 1254.5,1069.5 1255.5,1072.2 1256.5,1064.2 1257,1067.4 1257.5,1059.7 1258.5,1057.4 1259.5,1045.9 1260.5,1049.3 1261.5,1037.4 1262.5,1033.3 1263.5,1022.4 1264.5,1026.4 1265,1021.6 1265.5,1022.4 1266.5,1008.1 1267.5,1010.5 1268.5,1004.1 1269.5,999.4 1270,1000.1 1270.5,995.1 1271.5,998 1272.5,985.3 1273.5,983.3 1274.5,980.3 1275.5,979.6 1276.5,973.6 1277.5,969.8 1278,969.6 1278.5,972.3 1279.5,973.6 1280.5,978.4 1281.5,980.9 1282.5,985.3 1283.5,989.2 1284.5,988.8 1285.5,999.7 1286.5,998.2 1287,1003.3 1287.5,1006.6 1288.5,1007.7 1289.5,1023.5 1290.5,1024 1291.5,1029.5 1292.5,1041.5 1293,1048.9 1293.5,1051 1294.5,1046.5 1295.5,1054.3 1296.5,1060.8 1297.5,1063.6 1298.5,1067.2 1299.5,1072.6 1300,1072.1 1300.5,1085.5 1301.5,1082 1302.5,1079 1303.5,1087.2 1304.5,1095.6 1305.5,1089.9 1306.5,1100.1 1307.5,1088.9 1308.5,1096.9 1309.5,1111.6 1310,1103.7 1310.5,1095.2 1311.5,1111.7 1312.5,1100.8 1313.5,1108.3 1314.5,1101 1315.5,1092.5" fill="none" stroke="#006000" stroke-opacity="0.3" stroke-width="8.6" stroke-linejoin="round" stroke-linecap="round"/>
<path d="M451.5,851.2L447.5,857.5L443.5,851.2ZM459.6,852L455.5,860.7L451.4,852ZM475.2,859.3L471.5,873.8L467.8,859.3ZM480.3,823L483.5,813.5L486.7,823ZM500.8,852.7L497.5,866.8L494.2,852.7ZM507.7,849.6L504.5,857.8L501.3,849.6ZM518.1,805.4L521.5,788.5L524.9,805.4ZM534.6,835.7L530.5,847.8L526.4,835.7ZM536.2,794.3L539.5,780.7L542.8,794.3ZM550.5,827.6L546.5,841L542.5,827.6ZM563.9,823.7L560.5,829.9L557.1,823.7ZM578.2,822.3L573.5,833.2L568.8,822.3ZM592.4,823.4L587.5,839.6L582.6,823.4ZM601.7,825.8L597.5,836.8L593.3,825.8ZM605.3,793.6L608.5,785.6L611.7,793.6ZM619.1,801L623.5,788.7L627.9,801ZM634,809.6L637.5,801.5L641,809.6ZM649.9,850.9L646.5,865.8L643.1,850.9ZM659,858.6L654.5,868.5L650,858.6ZM664.8,864.5L661.5,872L658.2,864.5ZM773.4,995.7L769.5,1008.2L765.6,995.7ZM850.7,1080.5L855.5,1072.9L860.3,1080.5ZM873.8,1118.3L870.5,1123.9L867.2,1118.3ZM880.9,1105.4L884.5,1098.4L888.1,1105.4ZM903,1136.5L898.5,1145.4L894,1136.5ZM910.1,1120.6L913.5,1114L916.9,1120.6ZM924.2,1145.1L920,1153.2L915.8,1145.1ZM930.1,1147L926.5,1156.6L922.9,1147ZM935.2,1127.9L939.5,1122L943.8,1127.9ZM950.9,1127L954.5,1118.3L958.1,1127ZM966.2,1127L970.5,1119.2L974.8,1127ZM978.3,1127L981.5,1113.7L984.7,1127ZM989.9,1126.2L993.5,1114.9L997.1,1126.2ZM1009.8,1146.7L1006.5,1154L1003.2,1146.7ZM1019.1,1145.6L1015.5,1154.4L1011.9,1145.6ZM1031.3,1141.3L1026.5,1150.2L1021.7,1141.3ZM1046.3,1129.7L1042.5,1137.2L1038.7,1129.7ZM1138.7,1091.5L1143.5,1081.8L1148.3,1091.5ZM1155.2,1122.2L1150.5,1131.5L1145.8,1122.2ZM1163.6,1120.2L1167.5,1114.5L1171.4,1120.2ZM1182.1,1146.1L1178.5,1156.8L1174.9,1146.1ZM1187.6,1146.7L1183.5,1155.7L1179.4,1146.7ZM1190.1,1125.8L1193.5,1119.9L1196.9,1125.8ZM1204.9,1148.8L1201.5,1161.5L1198.1,1148.8ZM1215,1147.1L1210.5,1158.5L1206,1147.1ZM1222.7,1145.1L1218.5,1153.6L1214.3,1145.1ZM1237.6,1136.1L1233.5,1142.1L1229.4,1136.1ZM1333.9,1116.3L1330.5,1125.9L1327.1,1116.3ZM1341.4,1121.4L1336.5,1127.8L1331.6,1121.4ZM1340.1,1113.7L1344.5,1101.7L1348.9,1113.7ZM1346.9,1125.2L1351.5,1115L1356.1,1125.2ZM1362.3,1152.2L1357.5,1164.7L1352.7,1152.2ZM1367.7,1158.1L1363.5,1169.8L1359.3,1158.1ZM1374.1,1145.7L1377.5,1135L1380.9,1145.7ZM1394.2,1170.7L1390.5,1176.5L1386.8,1170.7ZM1396.8,1153.1L1401.5,1141.9L1406.2,1153.1ZM1409.5,1154.9L1413.5,1147.6L1417.5,1154.9ZM1425.6,1156.8L1429.5,1150.7L1433.4,1156.8ZM1450,1179.1L1445.5,1190.9L1441,1179.1ZM1456.4,1179.7L1452.5,1188.7L1448.6,1179.7ZM1469.4,1180.8L1464.5,1188.8L1459.6,1180.8ZM1473.3,1160.1L1476.5,1154.5L1479.7,1160.1ZM1488.5,1158.7L1492.5,1146.1L1496.5,1158.7ZM1507.2,1178.3L1503,1185.5L1498.8,1178.3ZM1505.9,1154.6L1510.5,1143.4L1515.1,1154.6ZM1531.3,1166.5L1526.5,1174.4L1521.7,1166.5ZM1528.3,1140.9L1532.5,1133L1536.7,1140.9ZM1537.8,1135.6L1541.5,1128.9L1545.2,1135.6ZM1555.9,1159L1551.5,1165L1547.1,1159ZM1553.2,1144.2L1557.5,1133.5L1561.8,1144.2ZM1578.4,1179.7L1573.5,1192.4L1568.6,1179.7ZM1588.3,1184.6L1583.5,1192.2L1578.7,1184.6ZM1605.4,1190.5L1600.5,1201.2L1595.6,1190.5ZM1607.2,1169.2L1610.5,1160L1613.8,1169.2ZM1614.5,1168L1619.5,1160.5L1624.5,1168ZM1635.7,1186L1632.5,1192.6L1629.3,1186ZM1642.9,1160.4L1647.5,1154.1L1652.1,1160.4ZM1657.8,1175L1654.5,1184.8L1651.2,1175ZM1655.1,1151.5L1659.5,1141.9L1663.9,1151.5ZM1672,1128.3L1675.5,1118.3L1679,1128.3ZM1687.5,1117L1691.5,1104.9L1695.5,1117ZM1701.9,1128L1706.5,1116.4L1711.1,1128ZM1721.4,1156L1717.5,1162.7L1713.6,1156ZM1721.5,1135.5L1725.5,1127.1L1729.5,1135.5ZM1736.2,1138.9L1739.5,1132.2L1742.8,1138.9ZM1751.9,1165L1747.5,1176.8L1743.1,1165ZM1755.8,1152.5L1760.5,1145.7L1765.2,1152.5ZM1770.6,1176.9L1766.5,1187L1762.4,1176.9ZM1777.8,1165.3L1781.5,1155.4L1785.2,1165.3ZM1796.4,1191.6L1792.5,1201.5L1788.6,1191.6ZM1802.5,1175.5L1806.5,1164.3L1810.5,1175.5ZM1814.7,1196.4L1811.5,1207.1L1808.3,1196.4ZM1827.7,1199L1823.5,1209L1819.3,1199ZM1827.6,1180.6L1831.5,1169.6L1835.4,1180.6ZM1842.3,1201L1837.5,1209.3L1832.7,1201ZM1843.1,1182.9L1846.5,1174.3L1849.9,1182.9ZM1863.4,1203.4L1858.5,1212.3L1853.6,1203.4ZM1861,1184.7L1865.5,1174.5L1870,1184.7ZM1866.7,1185.3L1871.5,1178.2L1876.3,1185.3ZM1877.8,1181.2L1881.5,1175.2L1885.2,1181.2ZM1895.4,1196.3L1890.5,1205L1885.6,1196.3ZM1903.5,1163.4L1907,1150.7L1910.5,1163.4ZM1909.8,1157.1L1913.5,1149.6L1917.2,1157.1ZM1927.4,1170.7L1922.5,1179L1917.6,1170.7ZM1938.5,1174.2L1934.5,1183.5L1930.5,1174.2Z" fill="#00f000" stroke="#00f000" stroke-width="1.5" stroke-linejoin="round"/>
<path d="M445.7,854.3L447.5,857.5L449.3,854.3ZM453.7,856.3L455.5,860.7L457.3,856.3ZM482.1,818.2L483.5,813.5L484.9,818.2ZM496,859.8L497.5,866.8L499,859.8ZM503,853.7L504.5,857.8L506,853.7ZM520,797L521.5,788.5L523,797ZM528.7,841.8L530.5,847.8L532.3,841.8ZM538,787.5L539.5,780.7L541,787.5ZM544.7,834.3L546.5,841L548.3,834.3ZM559,826.8L560.5,829.9L562,826.8ZM571.4,827.8L573.5,833.2L575.6,827.8ZM595.6,831.3L597.5,836.8L599.4,831.3ZM621.5,794.8L623.5,788.7L625.5,794.8ZM652.5,863.6L654.5,868.5L656.5,863.6ZM660,868.3L661.5,872L663,868.3ZM767.7,1002L769.5,1008.2L771.3,1002ZM853.4,1076.7L855.5,1072.9L857.6,1076.7ZM869,1121.1L870.5,1123.9L872,1121.1ZM882.9,1101.9L884.5,1098.4L886.1,1101.9ZM912,1117.3L913.5,1114L915,1117.3ZM924.9,1151.8L926.5,1156.6L928.1,1151.8ZM952.9,1122.6L954.5,1118.3L956.1,1122.6ZM1005,1150.3L1006.5,1154L1008,1150.3ZM1013.9,1150L1015.5,1154.4L1017.1,1150ZM1024.4,1145.7L1026.5,1150.2L1028.6,1145.7ZM1040.8,1133.4L1042.5,1137.2L1044.2,1133.4ZM1148.4,1126.8L1150.5,1131.5L1152.6,1126.8ZM1165.8,1117.4L1167.5,1114.5L1169.2,1117.4ZM1176.9,1151.5L1178.5,1156.8L1180.1,1151.5ZM1192,1122.9L1193.5,1119.9L1195,1122.9ZM1208.5,1152.8L1210.5,1158.5L1212.5,1152.8ZM1216.6,1149.4L1218.5,1153.6L1220.4,1149.4ZM1334.3,1124.6L1336.5,1127.8L1338.7,1124.6ZM1349.4,1120.1L1351.5,1115L1353.6,1120.1ZM1361.6,1164L1363.5,1169.8L1365.4,1164ZM1388.8,1173.6L1390.5,1176.5L1392.2,1173.6ZM1399.4,1147.5L1401.5,1141.9L1403.6,1147.5ZM1411.7,1151.2L1413.5,1147.6L1415.3,1151.2ZM1427.8,1153.7L1429.5,1150.7L1431.2,1153.7ZM1443.5,1185L1445.5,1190.9L1447.5,1185ZM1450.8,1184.2L1452.5,1188.7L1454.2,1184.2ZM1462.3,1184.8L1464.5,1188.8L1466.7,1184.8ZM1475,1157.3L1476.5,1154.5L1478,1157.3ZM1490.7,1152.4L1492.5,1146.1L1494.3,1152.4ZM1501.1,1181.9L1503,1185.5L1504.9,1181.9ZM1508.4,1149L1510.5,1143.4L1512.6,1149ZM1539.8,1132.2L1541.5,1128.9L1543.2,1132.2ZM1555.6,1138.9L1557.5,1133.5L1559.4,1138.9ZM1581.4,1188.4L1583.5,1192.2L1585.6,1188.4ZM1598.3,1195.8L1600.5,1201.2L1602.7,1195.8ZM1609,1164.6L1610.5,1160L1612,1164.6ZM1645.4,1157.3L1647.5,1154.1L1649.6,1157.3ZM1653,1179.9L1654.5,1184.8L1656,1179.9ZM1704.4,1122.2L1706.5,1116.4L1708.6,1122.2ZM1715.8,1159.3L1717.5,1162.7L1719.2,1159.3ZM1738,1135.5L1739.5,1132.2L1741,1135.5ZM1758.4,1149.1L1760.5,1145.7L1762.6,1149.1ZM1790.8,1196.6L1792.5,1201.5L1794.2,1196.6ZM1835.4,1205.2L1837.5,1209.3L1839.6,1205.2ZM1845,1178.6L1846.5,1174.3L1848,1178.6ZM1856.3,1207.8L1858.5,1212.3L1860.7,1207.8ZM1869.3,1181.7L1871.5,1178.2L1873.7,1181.7ZM1879.8,1178.2L1881.5,1175.2L1883.2,1178.2ZM1905.4,1157.1L1907,1150.7L1908.6,1157.1ZM1920.3,1174.8L1922.5,1179L1924.7,1174.8ZM1932.7,1178.8L1934.5,1183.5L1936.3,1178.8Z" fill="#009a00" fill-opacity="0.85" stroke="#009a00" stroke-opacity="0.85" stroke-width="1.5" stroke-linejoin="round"/>
<path d="M661.9,835.2v4M671.8,834.4v4M674.5,810.2v4M680.5,801.5v4M691.3,789v4M693.8,739v4M696.1,687.5v4M702.1,623v4M704.4,536.4v4M706.2,478.1v4M711.5,354.4v4M722.4,401v4M722.2,418v4M723.1,508.5v4M724.3,560.1v4M729.4,622.7v4M731.1,698.4v4M734.4,728.9v4M737.6,804v4M737.3,833.9v4M745.3,901.2v4M750.6,923.3v4M756.6,948.8v4M762.7,977.4v4M777.9,979.1v4M782.2,979.5v4M788.9,958.6v4M802.1,915.9v4M810.5,905.8v4M814.7,939v4M819.7,957v4M829.6,1029.1v4M837.6,1041.3v4M843,1071.8v4M1060.2,1091.9v4M1072.7,1055.9v4M1082.5,992.2v4M1091.1,915.9v4M1101.8,900v4M1112.8,987.6v4M1121,1040.9v4M1240.8,1117.9v4M1249.2,1085.3v4M1256.1,1067.5v4M1261.3,1047.3v4M1268.7,997.4v4M1277.8,967.6v4M1291.4,1027.5v4M1298.5,1058.8v4M1301.5,1077v4M1307.6,1094.9v4M1315.4,1099v4" fill="none" stroke="#003000" stroke-opacity="0.38" stroke-width="3.6" stroke-linecap="round"/>

<path d="M437.5,890.4 438.5,881.1 439.5,880.9 440.5,887.7 441.5,890.2 442.5,893.6 443.5,890.2 444.5,902.6 445.5,890.1 446.5,893.9 447.5,888.7 448.5,885.3 449.5,889.8 450.5,897.6 451.5,881.1 452.5,877.7 453,881.8 453.5,895 454.5,880.4 455.5,890 456.5,898.2 457.5,891.4 458.5,874 459.5,887.4 460.5,879.3 461.5,881.9 462.5,873.6 463.5,883.8 464.5,887.8 465.5,877.2 466.5,869.7 467,870.8 467.5,890.8 468.5,876.9 469.5,872 470.5,882.3 471.5,869.6 472.5,871.4 473.5,864.9 474.5,874.9 475.5,871.5 476.5,881 477.5,868.4 478.5,864 479.5,858.7 480,870.4 480.5,860.1 481.5,863.8 482.5,858.5 483.5,873.2 484.5,852.6 485.5,848.2 486.5,857.8 487.5,853.9 488.5,851.6 489.5,859.4 490.5,857 491.5,854.8 492.5,860.9 493,843.9 493.5,856.2 494.5,842.5 495.5,849.1 496.5,833.3 497.5,838.3 498.5,845.9 499.5,847.7 500.5,838.5 501.5,829.7 502.5,844.2 503.5,846.7 504.5,823 505.5,833.4 506.5,835.2 507,833.8 507.5,819 508.5,830.9 509.5,827.9 510.5,823.4 511.5,830.5 512.5,829.5 513.5,817.8 514.5,830.7 515.5,809.9 516.5,827.7 517.5,806.6 518.5,824.5 519.5,803.6 520,815.6 520.5,817.3 521.5,804 522.5,813.3 523.5,798.8 524.5,800.4 525.5,804.3 526.5,802.4 527.5,803 528.5,802.4 529.5,806.3 530.5,800.9 531.5,794.3 532.5,791.9 533,791 533.5,791.8 534.5,782.8 535.5,793.8 536.5,783.1 537.5,772.2 538.5,770.1 539.5,778.2 540,773.5 540.5,765.5 541.5,761 542.5,758.5 543.5,764.7 544.5,757.1 545.5,746.7 546.5,757.3 547,742.8 547.5,746.5 548.5,758.9 549.5,751 550.5,732.9 551.5,735.1 552.5,730.9 553,742.3 553.5,737 554.5,741.8 555.5,734.9 556.5,732.1 557.5,718 558.5,719.7 559.5,717.3 560,709.2 560.5,729 561.5,720.2 562.5,705 563.5,721.2 564.5,706 565.5,716.6 566.5,704.6 567,699.7 567.5,698.7 568.5,695.8 569.5,700.4 570.5,694.2 571.5,708.4 572.5,696.9 573,701.1 573.5,706.1 574.5,691.9 575.5,690.6 576.5,715.3 577.5,689.9 578.5,693.9 579.5,704.9 580.5,704.3 581.5,697.1 582.5,689.1 583.5,710.4 584.5,704.8 585.5,698.7 586.5,697.8 587,706.6 587.5,710.1 588.5,700.4 589.5,700.2 590.5,706.1 591.5,687.6 592.5,713.4 593.5,690.4 594.5,699.7 595.5,706.6 596.5,700.5 597.5,713 598.5,715.2 599.5,703.3 600,709.2 600.5,708.3 601.5,713.7 602.5,704.4 603.5,703.8 604.5,703.4 605.5,707 606.5,715 607,697.8 607.5,713.9 608.5,707.6 609.5,707.6 610.5,699.6 611.5,705 612.5,722.5 613,709.9 613.5,727.4 614.5,709.4 615.5,707.6 616.5,721.6 617.5,712.9 618.5,726.2 619.5,731.9 620,728.3 620.5,725.8 621.5,720.4 622.5,733.5 623.5,735.5 624.5,731.8 625.5,734.6 626.5,733.4 627,740.4 627.5,740.5 628.5,740.9 629.5,747.9 630.5,751.4 631.5,752 632.5,752.2 633,751.3 633.5,760.4 634.5,757.3 635.5,767.3 636.5,766.1 637.5,775 638.5,767.2 639.5,769.5 640,774.5 640.5,774.9 641.5,774.1 642.5,776.8 643.5,782.6 644.5,780.1 645.5,772.3 646.5,777.5 647,794.2 647.5,781.2 648.5,787.3 649.5,788.9 650.5,791.5 651.5,796.1 652.5,806.2 653,800.6 653.5,798.4 654.5,804 655.5,809.5 656.5,797.4 657.5,819.7 658.5,803.5 659.5,816.2 660,825.3 660.5,822.8 661.5,827 662.5,825.7 663.5,821 664.5,835.6 665.5,837.9 666.5,835.7 667,834.4 667.5,834.8 668.5,837.1 669.5,838.4 670.5,848.4 671.5,839.1 672.5,854.3 673.5,842.4 674.5,841.1 675.5,849.4 676.5,855.3 677.5,854.6 678.5,860.5 679.5,858.7 680,858.6 680.5,861.8 681.5,860 682.5,865.2 683.5,870 684.5,865.7 685.5,887.5 686.5,871.6 687.5,882.3 688.5,889.6 689.5,890.3 690.5,899.8 691.5,897.6 692.5,895.7 693,902.3 693.5,907.2 694.5,912.8 695.5,905.5 696.5,913.8 697.5,911.7 698.5,905.8 699.5,905.8 700.5,912.9 701.5,913.1 702.5,912.9 703.5,925.5 704.5,931.6 705.5,932.5 706.5,922.9 707,927.4 707.5,924.8 708.5,934.8 709.5,937 710.5,940.7 711.5,941.6 712.5,954.8 713.5,950.7 714.5,952.5 715.5,955.8 716.5,967.2 717.5,960.1 718.5,968.3 719.5,961.5 720,974.4 720.5,970.4 721.5,961.7 722.5,981.8 723.5,969.3 724.5,973.6 725.5,986.2 726.5,989.9 727.5,988.4 728.5,990.3 729.5,991.6 730.5,995.5 731.5,995.6 732.5,996.2 733.5,1011.1 734.5,1005.1 735.5,1016.2 736.5,1018.8 737,1017.9 737.5,1017 738.5,1009.1 739.5,1012.5 740.5,1014.1 741.5,1017 742.5,1026.8 743.5,1016.6 744.5,1030.8 745.5,1035.8 746.5,1033.8 747.5,1038.6 748.5,1022.9 749.5,1036.1 750.5,1040.5 751.5,1041 752.5,1042.9 753,1041.9 753.5,1041.7 754.5,1044.6 755.5,1053.4 756.5,1041.7 757.5,1048.1 758.5,1057.5 759.5,1052.4 760.5,1055.1 761.5,1050 762.5,1053.4 763.5,1062.3 764.5,1051.7 765.5,1057.8 766.5,1067.5 767.5,1068.8 768.5,1070.8 769.5,1074.8 770,1061.4 770.5,1062.2 771.5,1071.9 772.5,1067.3 773.5,1067 774.5,1077.5 775.5,1082.8 776.5,1085.5 777.5,1083.6 778.5,1082.2 779.5,1095.7 780.5,1085.8 781.5,1086.8 782.5,1088.5 783.5,1092.3 784.5,1093.5 785.5,1098.1 786.5,1093.4 787,1101.5 787.5,1105 788.5,1105.3 789.5,1103 790.5,1102.2 791.5,1114 792.5,1108 793.5,1116.9 794.5,1118.4 795.5,1100.6 796.5,1119.9 797.5,1116.2 798.5,1110.8 799.5,1122.1 800.5,1123.7 801.5,1122.9 802.5,1127.4 803,1122.6 803.5,1123.8 804.5,1132.9 805.5,1130 806.5,1123.4 807.5,1119.7 808.5,1128.3 809.5,1125.1 810.5,1130.1 811.5,1140.3 812.5,1136.3 813.5,1137.4 814.5,1140.9 815.5,1152.2 816.5,1153.9 817.5,1149.2 818.5,1147 819.5,1153.8 820,1144.7 820.5,1144.6 821.5,1153.5 822.5,1151.6 823.5,1154.5 824.5,1158.7 825.5,1160 826.5,1165.2 827.5,1157.9 828.5,1164.9 829.5,1167.8 830.5,1172.8 831.5,1169.7 832.5,1164.5 833.5,1163.4 834.5,1171.5 835.5,1166.6 836.5,1175.1 837,1177.3 837.5,1171.7 838.5,1180.5 839.5,1183.2 840.5,1174.9 841.5,1181 842.5,1181.4 843.5,1177 844.5,1180.9 845.5,1189.2 846.5,1188.5 847.5,1194.4 848.5,1184.1 849.5,1189.9 850.5,1188.4 851.5,1192 852.5,1192.8 853,1198 853.5,1200 854.5,1201.1 855.5,1196.4 856.5,1202.6 857.5,1197.2 858.5,1203 859.5,1211.7 860.5,1213.6 861.5,1208 862.5,1199.3 863.5,1210 864.5,1218.1 865.5,1214.8 866.5,1213.8 867.5,1212.7 868.5,1211.3 869.5,1206 870,1212 870.5,1208.5 871.5,1218.4 872.5,1221.3 873.5,1215.3 874.5,1212.9 875.5,1213.4 876.5,1218.2 877.5,1224.4 878.5,1222 879.5,1212.6 880.5,1219.2 881.5,1232.7 882.5,1224.8 883.5,1226.1 884.5,1227.4 885.5,1221.5 886.5,1218.4 887,1232.6 887.5,1219.1 888.5,1231.2 889.5,1227.8 890.5,1228.9 891.5,1221 892.5,1231.3 893.5,1223.9 894.5,1224 895.5,1225.8 896.5,1230 897.5,1227.9 898.5,1232.7 899.5,1240 900.5,1237.1 901.5,1230.1 902.5,1240.8 903.5,1232.2 904.5,1231.4 905.5,1246.1 906.5,1238.1 907.5,1231.2 908.5,1243.6 909.5,1241.2 910.5,1244.3 911.5,1243.1 912.5,1232.5 913.5,1237.8 914.5,1249.1 915.5,1237.4 916.5,1239.1 917.5,1238.6 918.5,1238.2 919.5,1246.1 920,1245.3 920.5,1244.2 921.5,1244.1 922.5,1240.5 923.5,1248.5 924.5,1252.3 925.5,1249.6 926.5,1240.4 927.5,1248 928.5,1246.6 929.5,1244 930.5,1238.7 931.5,1243.1 932.5,1247.1 933.5,1244 934.5,1241.5 935.5,1246.3 936.5,1245.6 937.5,1242 938.5,1251.2 939.5,1251.9 940.5,1250.7 941.5,1240.7 942.5,1256.4 943.5,1255 944.5,1240.4 945.5,1248.1 946.5,1256.9 947.5,1256.6 948.5,1240.8 949.5,1246.7 950.5,1245.5 951.5,1248.2 952.5,1251.2 953,1258.9 953.5,1252.7 954.5,1252.9 955.5,1245.6 956.5,1255.6 957.5,1252.7 958.5,1249.8 959.5,1254.2 960.5,1248.8 961.5,1242.4 962.5,1244.2 963.5,1259.5 964.5,1252.8 965.5,1252.6 966.5,1260.2 967.5,1246.2 968.5,1249.6 969.5,1248.3 970.5,1245.4 971.5,1252.6 972.5,1250 973.5,1253.4 974.5,1241.8 975.5,1254.7 976.5,1255.7 977.5,1257.3 978.5,1249 979.5,1252.8 980.5,1245.7 981.5,1241.8 982.5,1260.2 983.5,1252.7 984.5,1251.7 985.5,1256.6 986.5,1243.5 987,1246.2 987.5,1260.2 988.5,1254.4 989.5,1260.2 990.5,1253.2 991.5,1260.2 992.5,1251.4 993.5,1252.8 994.5,1249.4 995.5,1254.7 996.5,1250.8 997.5,1244.8 998.5,1246 999.5,1255.6 1000.5,1245.2 1001.5,1249.3 1002.5,1244.7 1003.5,1253.5 1004.5,1249.4 1005.5,1259.3 1006.5,1252.5 1007.5,1256.1 1008.5,1245 1009.5,1255.2 1010.5,1241.8 1011.5,1256.8 1012.5,1251.5 1013.5,1257.2 1014.5,1241.8 1015.5,1250.2 1016.5,1241.8 1017.5,1248.9 1018.5,1247.4 1019.5,1244.7 1020,1241.8 1020.5,1254.8 1021.5,1255.7 1022.5,1250.1 1023.5,1256.9 1024.5,1252.2 1025.5,1250.4 1026.5,1249 1027.5,1259.1 1028.5,1248.4 1029.5,1253.5 1030.5,1251.6 1031.5,1247.6 1032.5,1255.3 1033.5,1244.4 1034.5,1254.3 1035.5,1243.2 1036.5,1245.2 1037.5,1249.1 1038.5,1253.6 1039.5,1258.4 1040.5,1248 1041.5,1253.2 1042.5,1249.4 1043.5,1254.6 1044.5,1260 1045.5,1262.5 1046.5,1258.7 1047.5,1258.6 1048.5,1246.5 1049.5,1255.7 1050.5,1249.8 1051.5,1252.5 1052.5,1261 1053,1253.5 1053.5,1251.2 1054.5,1247.6 1055.5,1253.4 1056.5,1253.3 1057.5,1262.9 1058.5,1250 1059.5,1259.3 1060.5,1263.2 1061.5,1251.8 1062.5,1244.8 1063.5,1251.8 1064.5,1263.2 1065.5,1253.6 1066.5,1255.8 1067.5,1262.2 1068.5,1255.2 1069.5,1244.8 1070.5,1263.2 1071.5,1247.4 1072.5,1258.3 1073.5,1258 1074.5,1256.7 1075.5,1245.1 1076.5,1260.2 1077.5,1252.5 1078.5,1244.8 1079.5,1249.6 1080.5,1249 1081.5,1256.7 1082.5,1244.8 1083.5,1244.8 1084.5,1256.2 1085.5,1263.1 1086.5,1256.8 1087,1250.3 1087.5,1252.1 1088.5,1253.5 1089.5,1254.9 1090.5,1260.6 1091.5,1249.8 1092.5,1263.3 1093.5,1264 1094.5,1256.7 1095.5,1264.2 1096.5,1258 1097.5,1257.7 1098.5,1264.6 1099.5,1251.8 1100.5,1264.8 1101.5,1251.3 1102.5,1258.3 1103.5,1262.7 1104.5,1255.8 1105.5,1256.9 1106.5,1250.6 1107.5,1258.5 1108.5,1263.9 1109.5,1258.9 1110.5,1265.5 1111.5,1257.8 1112.5,1262.7 1113.5,1257.9 1114.5,1266.5 1115.5,1255.6 1116.5,1260.3 1117.5,1264.8 1118.5,1249.7 1119.5,1267.1 1120,1262.9 1120.5,1261.1 1121.5,1262.3 1122.5,1264 1123.5,1257.8 1124.5,1262.1 1125.5,1253.3 1126.5,1258 1127.5,1263.4 1128.5,1258.1 1129.5,1266.9 1130.5,1255.5 1131.5,1256.2 1132.5,1260.2 1133.5,1256.3 1134.5,1269.5 1135.5,1269.2 1136.5,1251.5 1137.5,1265.2 1138.5,1260.5 1139.5,1261.8 1140.5,1257.5 1141.5,1265.2 1142.5,1263 1143.5,1267.3 1144.5,1257.4 1145.5,1254.6 1146.5,1260 1147.5,1254.1 1148.5,1258.7 1149.5,1270.9 1150.5,1262.4 1151.5,1264.4 1152.5,1272.3 1153.5,1272.5 1154.5,1262.5 1155.5,1261.9 1156.5,1263.7 1157.5,1259.2 1158.5,1268.7 1159.5,1264.4 1160.5,1263.8 1161.5,1264.3 1162.5,1260.9 1163.5,1268.2 1164.5,1256 1165.5,1260.7 1166.5,1256.3 1167.5,1256.5 1168.5,1257.7 1169.5,1263.7 1170,1262.5 1170.5,1274.1 1171.5,1267 1172.5,1264.4 1173.5,1264 1174.5,1260.3 1175.5,1267.9 1176.5,1273 1177.5,1276.5 1178.5,1277.1 1179.5,1265.7 1180.5,1262.4 1181.5,1272.3 1182.5,1270 1183.5,1271.9 1184.5,1277.2 1185.5,1274.9 1186.5,1273 1187.5,1270.7 1188.5,1262.8 1189.5,1272.8 1190.5,1268.3 1191.5,1271.8 1192.5,1268.7 1193.5,1277.8 1194.5,1264.7 1195.5,1272.2 1196.5,1272.5 1197.5,1278.7 1198.5,1278.9 1199.5,1277.6 1200.5,1267.6 1201.5,1264.9 1202.5,1276.5 1203,1272.8 1203.5,1279.2 1204.5,1276.3 1205.5,1272.8 1206.5,1273.4 1207.5,1277.2 1208.5,1271.9 1209.5,1277.6 1210.5,1268.8 1211.5,1271.3 1212.5,1280.5 1213.5,1274.6 1214.5,1277.2 1215.5,1271.4 1216.5,1270.2 1217.5,1276.4 1218.5,1273.6 1219.5,1280.2 1220.5,1274.1 1221.5,1276.9 1222.5,1282.4 1223.5,1272.2 1224.5,1282.2 1225.5,1278.9 1226.5,1276.2 1227.5,1281.3 1228.5,1288.3 1229.5,1278.5 1230.5,1278.7 1231.5,1280.1 1232.5,1273.7 1233.5,1273.9 1234.5,1277.6 1235.5,1282.6 1236.5,1289.4 1237,1278 1237.5,1276.9 1238.5,1282.8 1239.5,1278.6 1240.5,1286.2 1241.5,1283.9 1242.5,1280.9 1243.5,1283 1244.5,1280.7 1245.5,1274.4 1246.5,1276.6 1247.5,1281.1 1248.5,1285.8 1249.5,1284.5 1250.5,1291.2 1251.5,1290.1 1252.5,1287.7 1253.5,1284.8 1254.5,1282.7 1255.5,1276.9 1256.5,1273.8 1257.5,1273.9 1258.5,1288.2 1259.5,1289.3 1260.5,1277.4 1261.5,1278.4 1262.5,1291.4 1263.5,1280.1 1264.5,1289.6 1265.5,1280 1266.5,1274.7 1267.5,1285.6 1268.5,1274.9 1269.5,1285.7 1270,1281.2 1270.5,1284.6 1271.5,1278.5 1272.5,1282.5 1273.5,1284.3 1274.5,1275.6 1275.5,1285.3 1276.5,1282.6 1277.5,1293.1 1278.5,1289.1 1279.5,1287.2 1280.5,1286.6 1281.5,1285.5 1282.5,1291.8 1283.5,1280.9 1284.5,1286 1285.5,1285.2 1286.5,1277 1287.5,1288.3 1288.5,1287.3 1289.5,1279.1 1290.5,1287.9 1291.5,1279.7 1292.5,1286 1293.5,1283 1294.5,1294.6 1295.5,1285 1296.5,1282.8 1297.5,1288.8 1298.5,1287.1 1299.5,1288.1 1300.5,1292.7 1301.5,1289.6 1302.5,1289.7 1303,1293.4 1303.5,1293.8 1304.5,1279 1305.5,1285.5 1306.5,1286.2 1307.5,1286.3 1308.5,1294.2 1309.5,1293.5 1310.5,1289.4 1311.5,1284.6 1312.5,1289.6 1313.5,1280.9 1314.5,1289.8 1315.5,1279 1316.5,1297 1317.5,1280.7 1318.5,1289.6 1319.5,1282.4 1320.5,1290.7 1321.5,1279.8 1322.5,1290.5 1323.5,1289.6 1324.5,1294.1 1325.5,1294.8 1326.5,1279 1327.5,1293.5 1328.5,1294.4 1329.5,1282.3 1330.5,1280.8 1331.5,1293.8 1332.5,1283.3 1333.5,1279.7 1334.5,1279 1335.5,1284.4 1336.5,1286 1337,1297 1337.5,1290.4 1338.5,1296.8 1339.5,1287.6 1340.5,1285.2 1341.5,1290.9 1342.5,1291.2 1343.5,1285.5 1344.5,1288.6 1345.5,1289.7 1346.5,1294 1347.5,1290 1348.5,1291.4 1349.5,1284.9 1350.5,1284.1 1351.5,1293.7 1352.5,1287.8 1353.5,1293.3 1354.5,1280.9 1355.5,1298.5 1356.5,1296.1 1357.5,1285.1 1358.5,1295.9 1359.5,1285.1 1360.5,1299.1 1361.5,1290.5 1362.5,1299.3 1363.5,1286.5 1364.5,1297.2 1365.5,1290 1366.5,1297.2 1367.5,1294.2 1368.5,1284.3 1369.5,1295.6 1370,1299.9 1370.5,1292.5 1371.5,1294.2 1372.5,1290.2 1373.5,1295.1 1374.5,1289.3 1375.5,1285.6 1376.5,1294.7 1377.5,1288.4 1378.5,1290.9 1379.5,1298.4 1380.5,1294.7 1381.5,1290.1 1382.5,1283.6 1383.5,1287.2 1384.5,1290.8 1385.5,1287.2 1386.5,1293.2 1387.5,1283.7 1388.5,1298 1389.5,1290.2 1390.5,1293.9 1391.5,1292.2 1392.5,1297.4 1393.5,1288.9 1394.5,1296.9 1395.5,1286.5 1396.5,1302.3 1397.5,1293.3 1398.5,1298.8 1399.5,1297.3 1400.5,1286.9 1401.5,1300.7 1402.5,1291.5 1403,1289.4 1403.5,1292.4 1404.5,1300.2 1405.5,1285.7 1406.5,1302 1407.5,1303.5 1408.5,1291.2 1409.5,1297.6 1410.5,1296.9 1411.5,1286.4 1412.5,1294.8 1413.5,1289.8 1414.5,1291.9 1415.5,1286.6 1416.5,1291.4 1417.5,1295.8 1418.5,1299.9 1419.5,1293.3 1420.5,1287.9 1421.5,1301.4 1422.5,1291.3 1423.5,1293.6 1424.5,1303.6 1425.5,1301.6 1426.5,1297.8 1427.5,1293.7 1428.5,1295.2 1429.5,1299.6 1430.5,1291.8 1431.5,1300.6 1432.5,1299 1433.5,1298.3 1434.5,1295.9 1435.5,1306.3 1436.5,1298.6 1437,1292.1 1437.5,1293.4 1438.5,1296.9 1439.5,1301.6 1440.5,1294.8 1441.5,1300.3 1442.5,1295.1 1443.5,1290.3 1444.5,1297.6 1445.5,1301.6 1446.5,1304.9 1447.5,1293.9 1448.5,1291.2 1449.5,1305.2 1450.5,1293.3 1451.5,1299.8 1452.5,1304.7 1453.5,1300.2 1454.5,1305.6 1455.5,1295.4 1456.5,1300.3 1457.5,1305.3 1458.5,1300.6 1459.5,1294.3 1460.5,1306.8 1461.5,1299.9 1462.5,1306 1463.5,1305.9 1464.5,1300 1465.5,1308.1 1466.5,1305.4 1467.5,1312.4 1468.5,1294.9 1469.5,1300 1470,1310 1470.5,1300.4 1471.5,1313.2 1472.5,1297.3 1473.5,1302.6 1474.5,1304.4 1475.5,1304.5 1476.5,1304.8 1477.5,1298.4 1478.5,1297 1479.5,1306.2 1480.5,1311.5 1481.5,1308.8 1482.5,1305.7 1483.5,1306.4 1484.5,1306.6 1485.5,1298.5 1486.5,1307.3 1487.5,1300.8 1488.5,1309 1489.5,1299.3 1490.5,1309.1 1491.5,1300.5 1492.5,1305.6 1493.5,1305.9 1494.5,1303.6 1495.5,1312.8 1496.5,1309.7 1497.5,1312.4 1498.5,1315.6 1499.5,1316.3 1500.5,1314.7 1501.5,1311.8 1502.5,1307 1503,1319.8 1503.5,1305.5 1504.5,1307.1 1505.5,1314.9 1506.5,1319.3 1507.5,1308.9 1508.5,1316.7 1509.5,1310.5 1510.5,1316.1 1511.5,1320.7 1512.5,1319.3 1513.5,1314.7 1514.5,1316 1515.5,1320.1 1516.5,1313.7 1517.5,1310.4 1518.5,1309.6 1519.5,1305.6 1520.5,1320.9 1521.5,1307 1522.5,1321.5 1523.5,1309.7 1524.5,1306.6 1525.5,1311.4 1526.5,1314 1527.5,1318.8 1528.5,1318.1 1529.5,1314.4 1530.5,1309.8 1531.5,1316.7 1532.5,1312.1 1533.5,1311.7 1534.5,1317.7 1535.5,1321.7 1536.5,1326.7 1537,1314.3 1537.5,1312.8 1538.5,1311.3 1539.5,1311.6 1540.5,1317 1541.5,1322 1542.5,1318.3 1543.5,1327.9 1544.5,1327.6 1545.5,1314.7 1546.5,1314.9 1547.5,1317.4 1548.5,1322 1549.5,1317.2 1550.5,1315.3 1551.5,1321.7 1552.5,1329.6 1553.5,1325.9 1554.5,1318.4 1555.5,1321.1 1556.5,1323.9 1557.5,1313.5 1558.5,1319.6 1559.5,1327.5 1560.5,1328.7 1561.5,1320.6 1562.5,1321.7 1563.5,1323 1564.5,1316.2 1565.5,1331.9 1566.5,1325.2 1567.5,1325.9 1568.5,1332.5 1569.5,1326.4 1570,1332.7 1570.5,1326.7 1571.5,1316.1 1572.5,1321.8 1573.5,1333.1 1574.5,1325.3 1575.5,1328.4 1576.5,1318.1 1577.5,1325 1578.5,1324.6 1579.5,1332.4 1580.5,1329.3 1581.5,1319.7 1582.5,1333.8 1583.5,1322.1 1584.5,1329.8 1585.5,1326.8 1586.5,1331.4 1587.5,1333.6 1588.5,1317.5 1589.5,1320 1590.5,1325.9 1591.5,1326.6 1592.5,1322.7 1593.5,1327.2 1594.5,1328.4 1595.5,1328.4 1596.5,1328.7 1597.5,1328.4 1598.5,1332 1599.5,1326.3 1600.5,1321.8 1601.5,1333.7 1602.5,1332.9 1603,1334.9 1603.5,1336.8 1604.5,1333.1 1605.5,1327.5 1606.5,1327.4 1607.5,1319.7 1608.5,1322.8 1609.5,1323.5 1610.5,1320 1611.5,1337.5 1612.5,1324.7 1613.5,1329.6 1614.5,1328.9 1615.5,1329 1616.5,1334.3 1617.5,1326.6 1618.5,1325.3 1619.5,1332.6 1620.5,1327.1 1621.5,1320.9 1622.5,1327.5 1623.5,1330.1 1624.5,1325 1625.5,1332.9 1626.5,1331.1 1627.5,1330.9 1628.5,1321.6 1629.5,1331.7 1630.5,1330.3 1631.5,1339.2 1632.5,1328.5 1633.5,1334.4 1634.5,1332.9 1635.5,1332.5 1636.5,1334.8 1637,1332.4 1637.5,1322.7 1638.5,1333.6 1639.5,1335.4 1640.5,1336.6 1641.5,1324.1 1642.5,1329.4 1643.5,1339.9 1644.5,1339.9 1645.5,1337.9 1646.5,1334.6 1647.5,1323 1648.5,1332.8 1649.5,1330.8 1650.5,1336.8 1651.5,1335.6 1652.5,1329.3 1653.5,1340.2 1654.5,1334.3 1655.5,1326 1656.5,1330.6 1657.5,1326.4 1658.5,1323 1659.5,1333 1660.5,1328.5 1661.5,1336.4 1662.5,1335.9 1663.5,1340.5 1664.5,1327.2 1665.5,1325.3 1666.5,1330.1 1667.5,1340.6 1668.5,1327.9 1669.5,1331.8 1670,1340.7 1670.5,1336.7 1671.5,1336.5 1672.5,1327.9 1673.5,1329.9 1674.5,1332.2 1675.5,1324.8 1676.5,1332.1 1677.5,1340.2 1678.5,1325.2 1679.5,1342 1680.5,1335.2 1681.5,1336.9 1682.5,1338 1683.5,1328.2 1684.5,1328.7 1685.5,1335 1686.5,1336.2 1687.5,1329.7 1688.5,1335.2 1689.5,1341.2 1690.5,1326.1 1691.5,1341.1 1692.5,1343.7 1693.5,1338.1 1694.5,1333.6 1695.5,1344.1 1696.5,1340.8 1697.5,1338 1698.5,1344.3 1699.5,1344.3 1700.5,1330.1 1701.5,1341.5 1702.5,1332.2 1703,1338.6 1703.5,1332.8 1704.5,1333.2 1705.5,1334.6 1706.5,1339 1707.5,1341.7 1708.5,1340.2 1709.5,1337.2 1710.5,1344.9 1711.5,1343 1712.5,1340.1 1713.5,1347.3 1714.5,1341.8 1715.5,1337.5 1716.5,1347.9 1717.5,1340.1 1718.5,1332.4 1719.5,1338 1720.5,1345.6 1721.5,1344.2 1722.5,1349.1 1723.5,1334.4 1724.5,1349.5 1725.5,1332.5 1726.5,1336.4 1727,1350 1727.5,1349.1 1728.5,1338.6 1729.5,1338.3 1730.5,1341.5 1731.5,1338.3 1732.5,1345.9 1733.5,1343.2 1734.5,1334.4 1735.5,1341.2 1736.5,1336.8 1737.5,1347.9 1738.5,1343.5 1739.5,1339.6 1740.5,1341.1 1741.5,1335.8 1742.5,1349.8 1743.5,1349.8 1744.5,1342.8 1745.5,1346.4 1746.5,1340 1747.5,1343.3 1748.5,1345.1 1749.5,1345.1 1750.5,1353 1751.5,1352 1752.5,1342.5 1753.5,1338.4 1753.7,1350.7 1754.5,1355.7 1755.5,1345.7 1756.5,1347.4 1757.5,1343.3 1758.5,1356.5 1759.5,1344.5 1760.5,1346.1 1761.5,1345 1762.5,1348.7 1763.5,1340.3 1764.5,1351.9 1765.5,1356.8 1766.5,1347.7 1767.5,1349.1 1768.5,1347.4 1769.5,1349.4 1770.5,1347.2 1771.5,1350.7 1772.5,1359.1 1773.5,1351.6 1774.5,1359.5 1775.5,1359.7 1776.5,1358.5 1777.5,1355.8 1778.5,1353.4 1779.5,1352 1780,1351.7 1780.5,1351.6 1781.5,1351.2 1782.5,1356.8 1783.5,1353.4 1784.5,1347.5 1785.5,1347.4 1786.5,1354.4 1787.5,1352.3 1788.5,1361.6 1789.5,1354.9 1790.5,1358.2 1791.5,1348.1 1792.5,1355.6 1793.5,1356 1794.5,1352.5 1795.5,1354.6 1796.5,1348.4 1797.5,1355.2 1798.5,1349.1 1799.5,1349.4 1800,1362.3 1800.5,1366.6 1801.5,1356.2 1802.5,1352.5 1803.5,1359.8 1804.5,1360.5 1805.5,1368.1 1806.5,1351.5 1807.5,1359.1 1808.5,1366.9 1809.5,1352.4 1810.5,1364.3 1811.5,1369.9 1812.5,1370.2 1813.5,1370.4 1814.5,1363.7 1815,1358.6 1815.5,1359.2 1816.5,1360.9 1817.5,1371.1 1818.5,1354.9 1819.5,1368.3 1820.5,1370.9 1821.5,1358.2 1822.5,1359.4 1823.5,1373 1824.5,1362.7 1825.5,1358.2 1826.5,1365.8 1827.5,1368.4 1828.5,1365.7 1829.5,1357.5 1830.5,1367 1831.5,1367.3 1832.5,1360.7 1833.5,1359.7 1833.7,1358.6 1834.5,1363.1 1835.5,1372.1 1836.5,1372.2 1837.5,1371.5 1838.5,1371.2 1839.5,1372.4 1840.5,1369.1 1841.5,1360.7 1842.5,1369.9 1843.5,1360.6 1844.5,1362.7 1845.5,1373.2 1846.5,1360 1847.5,1377 1848.5,1369.9 1849.5,1361.7 1850.5,1367.9 1851.5,1366 1852.5,1371.8 1853.5,1377.7 1854.5,1372.7 1855.5,1369.2 1856.5,1370.5 1857.5,1378.2 1858.5,1368.7 1859.5,1371.8 1860,1378.2 1860.5,1364.9 1861.5,1373.6 1862.5,1378.6 1863.5,1378.6 1864.5,1369.4 1865.5,1365.1 1866.5,1369.5 1867.5,1367.1 1868.5,1377.7 1869.5,1369.6 1870.5,1367.5 1871.5,1373.3 1872.5,1368.5 1873.5,1369.2 1874.5,1371.3 1875.5,1371.2 1876.5,1369.4 1877.5,1370.3 1878.5,1368.1 1879.5,1362.7 1880.5,1371.7 1881.5,1362.8 1882.5,1379.7 1883.5,1362.9 1884.5,1372.2 1885.5,1368.4 1886.5,1370.1 1887,1370.4 1887.5,1370.6 1888.5,1369.7 1889.5,1372.9 1890.5,1369 1891.5,1374.1 1892.5,1367 1893.5,1372.8 1894.5,1368.6 1895.5,1373.2 1896.5,1370.2 1897.5,1369.4 1898.5,1372.2 1899.5,1375.3 1900.5,1369.9 1901.5,1380.4 1902.5,1379.1 1903.5,1363.6 1904.5,1364.9 1905.5,1375.5 1906.5,1373 1907.5,1367.9 1908.5,1363.9 1909.5,1380.6 1910.5,1379.2 1911.5,1371.7 1912.5,1368.4 1913.5,1379.4 1914.5,1380.7 1915.5,1380.8 1916.5,1370.9 1917.5,1373.7 1918.5,1370.2 1919.5,1377.9 1920,1364.1 1920.5,1375.6 1921.5,1381 1922.5,1373.5 1923.5,1371 1924.5,1371.9 1925.5,1366.6 1926.5,1367.1 1927.5,1373.9 1928.5,1378 1929.5,1371 1930.5,1371.8 1931.5,1375.4 1932.5,1369 1933.5,1364.7 1934.5,1374.2 1935.5,1373.9 1936.5,1369 1937.5,1369.6" fill="none" stroke="#ff0066" stroke-width="9.5" stroke-linejoin="round" stroke-linecap="round"/>
<path d="M527.5,803 528.5,802.4 529.5,806.3 530.5,800.9 531.5,794.3 532.5,791.9 533,791 533.5,791.8 534.5,782.8 535.5,793.8 536.5,783.1 537.5,772.2 538.5,770.1 539.5,778.2 540,773.5 540.5,765.5 541.5,761 542.5,758.5 543.5,764.7 544.5,757.1 545.5,746.7 546.5,757.3 547,742.8 547.5,746.5 548.5,758.9 549.5,751 550.5,732.9 551.5,735.1 552.5,730.9 553,742.3 553.5,737 554.5,741.8 555.5,734.9 556.5,732.1 557.5,718 558.5,719.7 559.5,717.3M627.5,740.5 628.5,740.9 629.5,747.9 630.5,751.4 631.5,752 632.5,752.2 633,751.3 633.5,760.4 634.5,757.3 635.5,767.3 636.5,766.1 637.5,775 638.5,767.2 639.5,769.5 640,774.5 640.5,774.9 641.5,774.1 642.5,776.8 643.5,782.6 644.5,780.1 645.5,772.3 646.5,777.5 647,794.2 647.5,781.2 648.5,787.3 649.5,788.9 650.5,791.5 651.5,796.1 652.5,806.2 653,800.6 653.5,798.4 654.5,804 655.5,809.5 656.5,797.4 657.5,819.7 658.5,803.5M673.5,842.4 674.5,841.1 675.5,849.4 676.5,855.3 677.5,854.6 678.5,860.5 679.5,858.7 680,858.6 680.5,861.8 681.5,860 682.5,865.2 683.5,870 684.5,865.7 685.5,887.5 686.5,871.6 687.5,882.3 688.5,889.6 689.5,890.3 690.5,899.8 691.5,897.6 692.5,895.7 693,902.3 693.5,907.2 694.5,912.8 695.5,905.5 696.5,913.8 697.5,911.7 698.5,905.8 699.5,905.8M701.5,913.1 702.5,912.9 703.5,925.5 704.5,931.6 705.5,932.5 706.5,922.9 707,927.4 707.5,924.8 708.5,934.8 709.5,937 710.5,940.7 711.5,941.6 712.5,954.8 713.5,950.7 714.5,952.5 715.5,955.8 716.5,967.2 717.5,960.1 718.5,968.3 719.5,961.5 720,974.4 720.5,970.4 721.5,961.7 722.5,981.8 723.5,969.3 724.5,973.6 725.5,986.2 726.5,989.9 727.5,988.4 728.5,990.3 729.5,991.6 730.5,995.5 731.5,995.6 732.5,996.2 733.5,1011.1 734.5,1005.1 735.5,1016.2 736.5,1018.8 737,1017.9 737.5,1017 738.5,1009.1 739.5,1012.5 740.5,1014.1 741.5,1017 742.5,1026.8" fill="none" stroke="#800000" stroke-opacity="0.3" stroke-width="9.5" stroke-linejoin="round" stroke-linecap="round"/>
<path d="M437.1,878.6L441.5,866.6L445.9,878.6ZM446.6,876.5L450.5,864.7L454.4,876.5ZM461.3,868.6L464.5,862.1L467.7,868.6ZM465.6,863.4L470.5,853.7L475.4,863.4ZM480.6,846.5L485.5,838.9L490.4,846.5ZM494.1,828.9L498.5,818.2L502.9,828.9ZM506.6,811.1L511.5,800.5L516.4,811.1ZM529.7,813.4L526.5,825.4L523.3,813.4ZM569.7,724.2L565.5,737.6L561.3,724.2ZM577.9,686.5L581.5,671.4L585.1,686.5ZM591.8,713.6L587.5,720.1L583.2,713.6ZM593.9,688.1L598.5,681L603.1,688.1ZM610.1,720.6L606.5,727.3L602.9,720.6ZM626.4,740.7L621.5,746.8L616.6,740.7ZM622.7,725.4L626.5,714.1L630.3,725.4ZM657,803.9L660.5,792.4L664,803.9ZM754.4,1045.9L749.5,1051.4L744.6,1045.9ZM764.4,1065.6L760.5,1076.4L756.6,1065.6ZM764.2,1055.3L767.5,1044L770.8,1055.3ZM775.9,1086.2L772.5,1091.9L769.1,1086.2ZM793.5,1112.9L789.5,1124.2L785.5,1112.9ZM801,1124.1L797.5,1133.5L794,1124.1ZM808.1,1125.1L811.5,1118.4L814.9,1125.1ZM829.3,1170.5L825.5,1181.1L821.7,1170.5ZM829.9,1161.6L833.5,1151.7L837.1,1161.6ZM834.9,1170.3L839.5,1161L844.1,1170.3ZM854.9,1207L851.5,1217.2L848.1,1207ZM867.9,1218.9L863.5,1231.4L859.1,1218.9ZM875,1210L878.5,1203.7L882,1210ZM885,1218.3L889.5,1210.4L894,1218.3ZM908.2,1247.5L904.5,1255.5L900.8,1247.5ZM905.9,1228.4L910.5,1217.8L915.1,1228.4ZM911.7,1231.3L916.5,1221.7L921.3,1231.3ZM936.1,1257.4L931.5,1264.9L926.9,1257.4ZM934.2,1236.7L937.5,1226.4L940.8,1236.7ZM946.9,1259.9L943.5,1271.4L940.1,1259.9ZM948.8,1239.9L952.5,1231.8L956.2,1239.9ZM954.7,1240L959.5,1231.5L964.3,1240ZM972.3,1262L967.5,1268.5L962.7,1262ZM988.3,1262L983.5,1273.9L978.7,1262ZM992.3,1240L995.5,1231.4L998.7,1240ZM1008.4,1262L1004.5,1270.1L1000.6,1262ZM1018.6,1262L1014.5,1268.9L1010.4,1262ZM1017.7,1240.2L1021.5,1233.1L1025.3,1240.2ZM1033.5,1262.8L1029.5,1270.3L1025.5,1262.8ZM1039.6,1263.4L1035.5,1274.5L1031.4,1263.4ZM1055.8,1264.8L1051.5,1272.1L1047.2,1264.8ZM1059.8,1243.1L1063.5,1232L1067.2,1243.1ZM1077.3,1264.9L1072.5,1270.5L1067.7,1264.9ZM1087.4,1264.9L1083.5,1275.9L1079.6,1264.9ZM1102.3,1266.2L1097.5,1277.9L1092.7,1266.2ZM1102.9,1245.4L1106.5,1232.7L1110.1,1245.4ZM1123.9,1268.9L1120,1282L1116.1,1268.9ZM1127,1248.9L1131.5,1239.9L1136,1248.9ZM1152.4,1273.4L1148.5,1283.5L1144.6,1273.4ZM1161.3,1274.9L1157.5,1284.4L1153.7,1274.9ZM1158.6,1254.1L1163.5,1244.6L1168.4,1254.1ZM1171.6,1256.7L1176.5,1246.3L1181.4,1256.7ZM1196.8,1282.3L1192.5,1293.8L1188.2,1282.3ZM1200.8,1263.7L1205.5,1257.7L1210.2,1263.7ZM1222.2,1288L1218.5,1296.7L1214.8,1288ZM1226.1,1268.7L1229.5,1260.1L1232.9,1268.7ZM1231.9,1269.9L1235.5,1259L1239.1,1269.9ZM1249,1271.7L1252.5,1264.4L1256,1271.7ZM1264.6,1293.9L1260.5,1300.7L1256.4,1293.9ZM1274.2,1294.8L1270.5,1307.8L1266.8,1294.8ZM1273.7,1274.3L1278.5,1263.7L1283.3,1274.3ZM1289.4,1276.1L1293.5,1268.7L1297.6,1276.1ZM1306.1,1298.7L1302.5,1308.8L1298.9,1298.7ZM1318.8,1298.7L1314.5,1305.9L1310.2,1298.7ZM1333.4,1298.7L1329.5,1308.9L1325.6,1298.7ZM1349.1,1299.5L1345.5,1310.4L1341.9,1299.5ZM1354.9,1279.3L1359.5,1269.3L1364.1,1279.3ZM1362,1280L1366.5,1269.1L1371,1280ZM1368.2,1280.4L1371.5,1273.3L1374.8,1280.4ZM1377.3,1281.4L1381.5,1269.8L1385.7,1281.4ZM1384.7,1282L1388.5,1269.5L1392.3,1282ZM1392.2,1282.7L1396.5,1271L1400.8,1282.7ZM1408.8,1305L1405.5,1312.2L1402.2,1305ZM1425,1306.8L1421.5,1315.4L1418,1306.8ZM1440.8,1308.7L1437.5,1318.6L1434.2,1308.7ZM1449.4,1310L1444.5,1320.4L1439.6,1310ZM1453.2,1291.1L1457.5,1281.9L1461.8,1291.1ZM1473.6,1314.5L1469.5,1327.4L1465.4,1314.5ZM1479,1315.8L1475.5,1321.4L1472,1315.8ZM1478.4,1296.1L1482.5,1283.4L1486.6,1296.1ZM1497,1319.3L1492.5,1327.7L1488,1319.3ZM1503.5,1301.4L1507.5,1294.4L1511.5,1301.4ZM1525.5,1325.3L1521.5,1336.7L1517.5,1325.3ZM1539.3,1328.2L1535.5,1337.4L1531.7,1328.2ZM1550.2,1330.1L1545.5,1336.5L1540.8,1330.1ZM1548.2,1310.3L1552.5,1297.5L1556.8,1310.3ZM1554.1,1311.2L1557.5,1303.1L1560.9,1311.2ZM1568.4,1313.8L1572.5,1303.1L1576.6,1313.8ZM1585.7,1335.9L1581.5,1344.5L1577.3,1335.9ZM1603.5,1337.9L1598.5,1346.3L1593.5,1337.9ZM1608,1318.4L1612.5,1310.1L1617,1318.4ZM1624.2,1319.7L1627.5,1308.2L1630.8,1319.7ZM1632.6,1320.6L1637,1309.9L1641.4,1320.6ZM1656.3,1341.9L1652.5,1353.4L1648.7,1341.9ZM1661.9,1342.1L1658.5,1348.9L1655.1,1342.1ZM1669.6,1322.1L1673.5,1314.6L1677.4,1322.1ZM1682.3,1323.7L1685.5,1314L1688.7,1323.7ZM1689.1,1324.7L1692.5,1313.6L1695.9,1324.7ZM1700.7,1326.4L1704.5,1318.1L1708.3,1326.4ZM1723,1350.2L1719.5,1361.4L1716,1350.2ZM1731.1,1351.7L1726.5,1362.2L1721.9,1351.7ZM1739.1,1353.3L1734.5,1361.7L1729.9,1353.3ZM1737.8,1334.3L1742.5,1322.4L1747.2,1334.3ZM1758.3,1357.3L1753.5,1366.6L1748.7,1357.3ZM1773,1360.1L1768.5,1370.6L1764,1360.1ZM1786.9,1363L1782.5,1374.7L1778.1,1363ZM1784.8,1344.3L1788.5,1337.2L1792.2,1344.3ZM1788.7,1345.8L1793.5,1336.2L1798.3,1345.8ZM1804.4,1350.3L1808.5,1340.7L1812.6,1350.3ZM1818.2,1353.9L1821.5,1341.3L1824.8,1353.9ZM1833.2,1376.2L1829.5,1382.3L1825.8,1376.2ZM1846.7,1378.2L1842.5,1387.3L1838.3,1378.2ZM1851.1,1359.3L1855.5,1349.4L1859.9,1359.3ZM1855.2,1359.8L1860,1353L1864.8,1359.8ZM1870.3,1380.5L1865.5,1392.7L1860.7,1380.5ZM1871.6,1360.7L1875.5,1354.6L1879.4,1360.7ZM1891.2,1381.6L1886.5,1390.8L1881.8,1381.6ZM1892.1,1361.6L1896.5,1352.6L1900.9,1361.6ZM1907.2,1362.1L1911.5,1350.6L1915.8,1362.1ZM1927.2,1382.8L1922.5,1393.7L1917.8,1382.8Z" fill="#ff0066" stroke="#ff0066" stroke-width="1.5" stroke-linejoin="round"/>
<path d="M439.5,872.6L441.5,866.6L443.5,872.6ZM448.8,870.6L450.5,864.7L452.2,870.6ZM463.1,865.4L464.5,862.1L465.9,865.4ZM468.3,858.6L470.5,853.7L472.7,858.6ZM483.3,842.7L485.5,838.9L487.7,842.7ZM496.5,823.5L498.5,818.2L500.5,823.5ZM509.3,805.8L511.5,800.5L513.7,805.8ZM525.1,819.4L526.5,825.4L527.9,819.4ZM563.6,730.9L565.5,737.6L567.4,730.9ZM579.9,678.9L581.5,671.4L583.1,678.9ZM585.6,716.9L587.5,720.1L589.4,716.9ZM596.4,684.6L598.5,681L600.6,684.6ZM604.9,723.9L606.5,727.3L608.1,723.9ZM624.8,719.7L626.5,714.1L628.2,719.7ZM658.9,798.2L660.5,792.4L662.1,798.2ZM747.3,1048.6L749.5,1051.4L751.7,1048.6ZM771,1089.1L772.5,1091.9L774,1089.1ZM787.7,1118.5L789.5,1124.2L791.3,1118.5ZM795.9,1128.8L797.5,1133.5L799.1,1128.8ZM810,1121.8L811.5,1118.4L813,1121.8ZM823.8,1175.8L825.5,1181.1L827.2,1175.8ZM837.4,1165.7L839.5,1161L841.6,1165.7ZM850,1212.1L851.5,1217.2L853,1212.1ZM887.5,1214.3L889.5,1210.4L891.5,1214.3ZM914.3,1226.5L916.5,1221.7L918.7,1226.5ZM929.5,1261.2L931.5,1264.9L933.5,1261.2ZM936,1231.6L937.5,1226.4L939,1231.6ZM941.9,1265.7L943.5,1271.4L945.1,1265.7ZM950.8,1235.9L952.5,1231.8L954.2,1235.9ZM957.3,1235.8L959.5,1231.5L961.7,1235.8ZM965.4,1265.2L967.5,1268.5L969.6,1265.2ZM981.3,1267.9L983.5,1273.9L985.7,1267.9ZM1002.7,1266.1L1004.5,1270.1L1006.3,1266.1ZM1012.7,1265.4L1014.5,1268.9L1016.3,1265.4ZM1019.8,1236.6L1021.5,1233.1L1023.2,1236.6ZM1033.6,1268.9L1035.5,1274.5L1037.4,1268.9ZM1070.4,1267.7L1072.5,1270.5L1074.6,1267.7ZM1081.7,1270.4L1083.5,1275.9L1085.3,1270.4ZM1095.3,1272.1L1097.5,1277.9L1099.7,1272.1ZM1104.9,1239.1L1106.5,1232.7L1108.1,1239.1ZM1129.5,1244.4L1131.5,1239.9L1133.5,1244.4ZM1146.7,1278.5L1148.5,1283.5L1150.3,1278.5ZM1155.8,1279.6L1157.5,1284.4L1159.2,1279.6ZM1161.3,1249.3L1163.5,1244.6L1165.7,1249.3ZM1174.3,1251.5L1176.5,1246.3L1178.7,1251.5ZM1190.6,1288.1L1192.5,1293.8L1194.4,1288.1ZM1203.4,1260.7L1205.5,1257.7L1207.6,1260.7ZM1216.8,1292.4L1218.5,1296.7L1220.2,1292.4ZM1228,1264.4L1229.5,1260.1L1231,1264.4ZM1233.9,1264.5L1235.5,1259L1237.1,1264.5ZM1258.7,1297.3L1260.5,1300.7L1262.3,1297.3ZM1268.9,1301.3L1270.5,1307.8L1272.1,1301.3ZM1276.3,1269L1278.5,1263.7L1280.7,1269ZM1291.6,1272.4L1293.5,1268.7L1295.4,1272.4ZM1312.6,1302.3L1314.5,1305.9L1316.4,1302.3ZM1343.9,1304.9L1345.5,1310.4L1347.1,1304.9ZM1357.4,1274.3L1359.5,1269.3L1361.6,1274.3ZM1379.6,1275.6L1381.5,1269.8L1383.4,1275.6ZM1386.8,1275.7L1388.5,1269.5L1390.2,1275.7ZM1394.6,1276.8L1396.5,1271L1398.4,1276.8ZM1404,1308.6L1405.5,1312.2L1407,1308.6ZM1419.9,1311.1L1421.5,1315.4L1423.1,1311.1ZM1436,1313.7L1437.5,1318.6L1439,1313.7ZM1442.3,1315.2L1444.5,1320.4L1446.7,1315.2ZM1455.6,1286.5L1457.5,1281.9L1459.4,1286.5ZM1467.7,1320.9L1469.5,1327.4L1471.3,1320.9ZM1473.9,1318.6L1475.5,1321.4L1477.1,1318.6ZM1490.5,1323.5L1492.5,1327.7L1494.5,1323.5ZM1519.7,1331L1521.5,1336.7L1523.3,1331ZM1533.8,1332.8L1535.5,1337.4L1537.2,1332.8ZM1543.4,1333.3L1545.5,1336.5L1547.6,1333.3ZM1550.6,1303.9L1552.5,1297.5L1554.4,1303.9ZM1556,1307.1L1557.5,1303.1L1559,1307.1ZM1626,1314L1627.5,1308.2L1629,1314ZM1635,1315.3L1637,1309.9L1639,1315.3ZM1650.8,1347.7L1652.5,1353.4L1654.2,1347.7ZM1657,1345.5L1658.5,1348.9L1660,1345.5ZM1671.8,1318.3L1673.5,1314.6L1675.2,1318.3ZM1684,1318.9L1685.5,1314L1687,1318.9ZM1691,1319.1L1692.5,1313.6L1694,1319.1ZM1732.4,1357.5L1734.5,1361.7L1736.6,1357.5ZM1740.4,1328.4L1742.5,1322.4L1744.6,1328.4ZM1751.3,1361.9L1753.5,1366.6L1755.7,1361.9ZM1766.5,1365.3L1768.5,1370.6L1770.5,1365.3ZM1786.8,1340.8L1788.5,1337.2L1790.2,1340.8ZM1791.3,1341L1793.5,1336.2L1795.7,1341ZM1820,1347.6L1821.5,1341.3L1823,1347.6ZM1840.6,1382.7L1842.5,1387.3L1844.4,1382.7ZM1857.9,1356.4L1860,1353L1862.1,1356.4ZM1863.4,1386.6L1865.5,1392.7L1867.6,1386.6ZM1873.8,1357.7L1875.5,1354.6L1877.2,1357.7ZM1884.4,1386.2L1886.5,1390.8L1888.6,1386.2ZM1894.5,1357.1L1896.5,1352.6L1898.5,1357.1ZM1920.4,1388.3L1922.5,1393.7L1924.6,1388.3Z" fill="#b00028" fill-opacity="0.85" stroke="#b00028" stroke-opacity="0.85" stroke-width="1.5" stroke-linejoin="round"/>
<path d="M529.5,798.9v4M536,791.8v4M544.5,744.7v4M550.5,733.1v4M629.2,738.9v4M636,773v4M647.4,775.5v4M653.2,794.1v4M653.8,807.5v4M675.6,839.1v4M682.6,863.7v4M691.3,888.3v4M695.6,909.7v4M702.4,923.5v4M715.7,953.8v4M722.4,959.7v4M733.9,994.2v4M739.8,1015v4" fill="none" stroke="#500010" stroke-opacity="0.38" stroke-width="3.6" stroke-linecap="round"/>

</g></g>
<g stroke="#000" fill="#000" filter="url(#ba)">
<line x1="438.2" y1="216" x2="438.2" y2="1387" stroke-width="8.6" stroke-linecap="round"/>
<line x1="438.2" y1="1374.4" x2="1947.5" y2="1374.4" stroke-width="4.8"/>
<line x1="416.5" y1="219.7" x2="438.2" y2="219.7" stroke-width="8" stroke-linecap="round"/>
<line x1="427.5" y1="282.1" x2="438.2" y2="282.1" stroke-width="7.5" stroke-linecap="round"/>
<line x1="416.5" y1="344.6" x2="438.2" y2="344.6" stroke-width="8" stroke-linecap="round"/>
<line x1="427.5" y1="407.0" x2="438.2" y2="407.0" stroke-width="7.5" stroke-linecap="round"/>
<line x1="416.5" y1="469.4" x2="438.2" y2="469.4" stroke-width="8" stroke-linecap="round"/>
<line x1="427.5" y1="531.8" x2="438.2" y2="531.8" stroke-width="7.5" stroke-linecap="round"/>
<line x1="416.5" y1="594.3" x2="438.2" y2="594.3" stroke-width="8" stroke-linecap="round"/>
<line x1="427.5" y1="656.7" x2="438.2" y2="656.7" stroke-width="7.5" stroke-linecap="round"/>
<line x1="416.5" y1="719.1" x2="438.2" y2="719.1" stroke-width="8" stroke-linecap="round"/>
<line x1="427.5" y1="781.6" x2="438.2" y2="781.6" stroke-width="7.5" stroke-linecap="round"/>
<line x1="416.5" y1="844.0" x2="438.2" y2="844.0" stroke-width="8" stroke-linecap="round"/>
<line x1="427.5" y1="906.4" x2="438.2" y2="906.4" stroke-width="7.5" stroke-linecap="round"/>
<line x1="416.5" y1="968.9" x2="438.2" y2="968.9" stroke-width="8" stroke-linecap="round"/>
<line x1="427.5" y1="1031.3" x2="438.2" y2="1031.3" stroke-width="7.5" stroke-linecap="round"/>
<line x1="416.5" y1="1093.7" x2="438.2" y2="1093.7" stroke-width="8" stroke-linecap="round"/>
<line x1="427.5" y1="1156.2" x2="438.2" y2="1156.2" stroke-width="7.5" stroke-linecap="round"/>
<line x1="416.5" y1="1218.6" x2="438.2" y2="1218.6" stroke-width="8" stroke-linecap="round"/>
<line x1="427.5" y1="1281.0" x2="438.2" y2="1281.0" stroke-width="7.5" stroke-linecap="round"/>
<line x1="416.5" y1="1343.4" x2="438.2" y2="1343.4" stroke-width="8" stroke-linecap="round"/>
<path d="M532.7,1374.4 L533.4,1398 Q536.7,1401 540.0,1398 L540.7,1374.4 Z" stroke="none"/>
<path d="M632.7,1374.4 L635.7,1389 Q637.2,1391 638.7,1389 L641.7,1374.4 Z" stroke="none"/>
<path d="M733.7,1374.4 L734.4,1398 Q737.7,1401 741.0,1398 L741.7,1374.4 Z" stroke="none"/>
<path d="M833.7,1374.4 L836.7,1389 Q838.2,1391 839.7,1389 L842.7,1374.4 Z" stroke="none"/>
<path d="M934.7,1374.4 L935.4,1398 Q938.7,1401 942.0,1398 L942.7,1374.4 Z" stroke="none"/>
<path d="M1034.7,1374.4 L1037.7,1389 Q1039.2,1391 1040.7,1389 L1043.7,1374.4 Z" stroke="none"/>
<path d="M1135.7,1374.4 L1136.4,1398 Q1139.7,1401 1143.0,1398 L1143.7,1374.4 Z" stroke="none"/>
<path d="M1235.7,1374.4 L1238.7,1389 Q1240.2,1391 1241.7,1389 L1244.7,1374.4 Z" stroke="none"/>
<path d="M1336.7,1374.4 L1337.4,1398 Q1340.7,1401 1344.0,1398 L1344.7,1374.4 Z" stroke="none"/>
<path d="M1436.7,1374.4 L1439.7,1389 Q1441.2,1391 1442.7,1389 L1445.7,1374.4 Z" stroke="none"/>
<path d="M1537.7,1374.4 L1538.4,1398 Q1541.7,1401 1545.0,1398 L1545.7,1374.4 Z" stroke="none"/>
<path d="M1637.7,1374.4 L1640.7,1389 Q1642.2,1391 1643.7,1389 L1646.7,1374.4 Z" stroke="none"/>
<path d="M1738.7,1374.4 L1739.4,1398 Q1742.7,1401 1746.0,1398 L1746.7,1374.4 Z" stroke="none"/>
<path d="M1838.7,1374.4 L1841.7,1389 Q1843.2,1391 1844.7,1389 L1847.7,1374.4 Z" stroke="none"/>
<path d="M1939.7,1374.4 L1940.4,1398 Q1943.7,1401 1947.0,1398 L1947.7,1374.4 Z" stroke="none"/>
</g>
<g fill="#000" stroke="#000" stroke-width="1.7" stroke-linejoin="round" filter="url(#bt)">
<text transform="translate(401.1,234.3) scale(0.843,1)" text-anchor="end" font-family="Liberation Sans, Arial, sans-serif" font-weight="bold" font-size="61">2000</text>
<text transform="translate(401.1,359.2) scale(0.843,1)" text-anchor="end" font-family="Liberation Sans, Arial, sans-serif" font-weight="bold" font-size="61">1800</text>
<text transform="translate(401.1,484.0) scale(0.843,1)" text-anchor="end" font-family="Liberation Sans, Arial, sans-serif" font-weight="bold" font-size="61">1600</text>
<text transform="translate(401.1,608.9) scale(0.843,1)" text-anchor="end" font-family="Liberation Sans, Arial, sans-serif" font-weight="bold" font-size="61">1400</text>
<text transform="translate(401.1,733.7) scale(0.843,1)" text-anchor="end" font-family="Liberation Sans, Arial, sans-serif" font-weight="bold" font-size="61">1200</text>
<text transform="translate(401.1,858.6) scale(0.843,1)" text-anchor="end" font-family="Liberation Sans, Arial, sans-serif" font-weight="bold" font-size="61">1000</text>
<text transform="translate(401.1,983.5) scale(0.838,1)" text-anchor="end" font-family="Liberation Sans, Arial, sans-serif" font-weight="bold" font-size="61">800</text>
<text transform="translate(401.1,1108.3) scale(0.838,1)" text-anchor="end" font-family="Liberation Sans, Arial, sans-serif" font-weight="bold" font-size="61">600</text>
<text transform="translate(401.1,1233.2) scale(0.838,1)" text-anchor="end" font-family="Liberation Sans, Arial, sans-serif" font-weight="bold" font-size="61">400</text>
<text transform="translate(401.1,1358.0) scale(0.838,1)" text-anchor="end" font-family="Liberation Sans, Arial, sans-serif" font-weight="bold" font-size="61">200</text>
<text transform="translate(536.2,1453.3) scale(0.905,1)" text-anchor="middle" font-family="Liberation Sans, Arial, sans-serif" font-weight="bold" font-size="61">20</text>
<text transform="translate(737.2,1453.3) scale(0.905,1)" text-anchor="middle" font-family="Liberation Sans, Arial, sans-serif" font-weight="bold" font-size="61">30</text>
<text transform="translate(938.2,1453.3) scale(0.905,1)" text-anchor="middle" font-family="Liberation Sans, Arial, sans-serif" font-weight="bold" font-size="61">40</text>
<text transform="translate(1139.2,1453.3) scale(0.905,1)" text-anchor="middle" font-family="Liberation Sans, Arial, sans-serif" font-weight="bold" font-size="61">50</text>
<text transform="translate(1340.2,1453.3) scale(0.905,1)" text-anchor="middle" font-family="Liberation Sans, Arial, sans-serif" font-weight="bold" font-size="61">60</text>
<text transform="translate(1541.2,1453.3) scale(0.905,1)" text-anchor="middle" font-family="Liberation Sans, Arial, sans-serif" font-weight="bold" font-size="61">70</text>
<text transform="translate(1742.2,1453.3) scale(0.905,1)" text-anchor="middle" font-family="Liberation Sans, Arial, sans-serif" font-weight="bold" font-size="61">80</text>
<text transform="translate(1943.2,1453.3) scale(0.905,1)" text-anchor="middle" font-family="Liberation Sans, Arial, sans-serif" font-weight="bold" font-size="61">90</text>
<text transform="translate(1188,1553.4) scale(0.824,1)" text-anchor="middle" font-family="Liberation Sans, Arial, sans-serif" font-weight="bold" font-size="69">2 theta</text>
<text transform="translate(253,834.6) rotate(-90) scale(0.858,1)" text-anchor="middle" font-family="Liberation Sans, Arial, sans-serif" font-weight="bold" font-size="68">Intensity(a.u.)</text>
</g>
<g fill="#000" filter="url(#bt)">
<text x="1027.7" y="215.6" font-family="Liberation Serif, Times New Roman, serif" font-size="66.5" stroke="#000" stroke-width="1.3">ZrO<tspan font-size="53" dy="19">2</tspan></text>
<text transform="translate(981.3,215.0) scale(0.979,1.084)" font-family="Liberation Serif, Times New Roman, serif" font-size="66" stroke="#000" stroke-width="1.6">#</text>
<text x="1385.1" y="221.2" font-family="Liberation Serif, Times New Roman, serif" font-size="66.5" stroke="#000" stroke-width="1.3">(Ce, Zr)O<tspan font-size="53" dy="19">2</tspan></text>
<text transform="translate(1341.9,221.3) scale(0.963,1.024)" font-family="Liberation Serif, Times New Roman, serif" font-size="66" stroke="#000" stroke-width="1.6">*</text>
<text transform="translate(1923.0,215.6) scale(1,1.06)" font-family="Liberation Serif, Times New Roman, serif" font-size="66.5" stroke="#000" stroke-width="1.3">CeO<tspan font-size="53" dx="-4" dy="14">2</tspan></text>
<text transform="translate(1868.9,214.4) scale(1.119,1.125)" font-family="Liberation Serif, Times New Roman, serif" font-size="66" stroke="#000" stroke-width="1.6">+</text>
<text transform="translate(1129.8,162.6) scale(1,1.091)" font-family="Liberation Sans, Arial, sans-serif" font-weight="bold" font-size="42.0">-</text>
<text transform="translate(1319.9,162.6) scale(1,1.091)" font-family="Liberation Sans, Arial, sans-serif" font-weight="bold" font-size="42.0">-</text>
<text transform="translate(1509.9,162.6) scale(1,1.091)" font-family="Liberation Sans, Arial, sans-serif" font-weight="bold" font-size="42.0">-</text>
<text transform="translate(1699.9,162.6) scale(1,1.091)" font-family="Liberation Sans, Arial, sans-serif" font-weight="bold" font-size="42.0">-</text>
<text transform="translate(1891.1,162.6) scale(1,1.091)" font-family="Liberation Sans, Arial, sans-serif" font-weight="bold" font-size="42.0">-</text>
<text transform="translate(695.5,335.6) scale(0.936,1.019)" font-family="Liberation Serif, Times New Roman, serif" font-size="66" stroke="#000" stroke-width="1.6">*</text>
<text transform="translate(733.6,355.3) scale(1.055,1.068)" font-family="Liberation Serif, Times New Roman, serif" font-size="66" stroke="#000" stroke-width="1.6">+</text>
<text transform="translate(754.4,305.4) scale(1,1.146)" font-family="Liberation Sans, Arial, sans-serif" font-weight="bold" font-size="40.0">-</text>
<text transform="translate(611.9,657.8) scale(0.900,1.049)" font-family="Liberation Serif, Times New Roman, serif" font-size="66" stroke="#000" stroke-width="1.6">#</text>
<text transform="translate(797.8,867.0) scale(0.893,1.059)" font-family="Liberation Serif, Times New Roman, serif" font-size="66" stroke="#000" stroke-width="1.6">#</text>
<text transform="translate(1033.9,898.8) scale(1.032,1.078)" font-family="Liberation Serif, Times New Roman, serif" font-size="66" stroke="#000" stroke-width="1.6">+</text>
<text transform="translate(1054.1,847.9) scale(1,1.146)" font-family="Liberation Sans, Arial, sans-serif" font-weight="bold" font-size="40.0">-</text>
<text transform="translate(1076.7,848.5) scale(0.925,0.998)" font-family="Liberation Serif, Times New Roman, serif" font-size="66" stroke="#000" stroke-width="1.6">*</text>
<text transform="translate(1223.9,973.8) scale(1.032,1.078)" font-family="Liberation Serif, Times New Roman, serif" font-size="66" stroke="#000" stroke-width="1.6">+</text>
<text transform="translate(1244.4,924.6) scale(1,1.146)" font-family="Liberation Sans, Arial, sans-serif" font-weight="bold" font-size="40.0">-</text>
<text transform="translate(1271.5,944.3) scale(0.936,0.977)" font-family="Liberation Serif, Times New Roman, serif" font-size="66" stroke="#000" stroke-width="1.6">*</text>
<text transform="translate(1670.8,1090.8) scale(0.936,0.977)" font-family="Liberation Serif, Times New Roman, serif" font-size="66" stroke="#000" stroke-width="1.6">*</text>
<text transform="translate(1708.9,1107.5) scale(1.032,1.078)" font-family="Liberation Serif, Times New Roman, serif" font-size="66" stroke="#000" stroke-width="1.6">+</text>
<text transform="translate(1730.1,1057.2) scale(1,1.146)" font-family="Liberation Sans, Arial, sans-serif" font-weight="bold" font-size="40.0">-</text>
</g>
<g filter="url(#bt)">
<rect x="1046.4" y="541.1" width="652.2" height="232.5" rx="5" fill="#fff" stroke="#141414" stroke-width="6.2"/>
<line x1="1088.5" y1="586.6" x2="1215.8" y2="586.6" stroke="#7a0000" stroke-width="9.6" stroke-linecap="round"/>
<line x1="1088" y1="583.6" x2="1216" y2="583.6" stroke="#f01010" stroke-width="3.4" stroke-linecap="round"/>
<line x1="1088" y1="664.5" x2="1210" y2="664.5" stroke="#00a000" stroke-width="8.2" stroke-linecap="round"/>
<line x1="1088" y1="662.4" x2="1210" y2="662.4" stroke="#00cc10" stroke-width="2.6" stroke-linecap="round"/>
<line x1="1088.5" y1="739.3" x2="1212.3" y2="739.3" stroke="#800028" stroke-width="9.6" stroke-linecap="round"/>
<line x1="1088" y1="736.2" x2="1212.5" y2="736.2" stroke="#ff1a78" stroke-width="3.4" stroke-linecap="round"/>
<text transform="translate(1245.5,596.5) scale(1.0075,1.085)" font-family="Liberation Sans, Arial, sans-serif" font-size="54" fill="#000" stroke="#000" stroke-width="1.7" stroke-linejoin="round">Ce/SBA15/DSM</text>
<text transform="translate(1231.6,672) scale(0.9932,1.085)" font-family="Liberation Sans, Arial, sans-serif" font-size="54" fill="#000" stroke="#000" stroke-width="1.7" stroke-linejoin="round">Ce,Zr/SBA15/DSM</text>
<text transform="translate(1246.5,751) scale(1.0188,1.085)" font-family="Liberation Sans, Arial, sans-serif" font-size="54" fill="#000" stroke="#000" stroke-width="1.7" stroke-linejoin="round">Zr/SBA15/DSM</text>
</g>
</svg>
</body></html>
